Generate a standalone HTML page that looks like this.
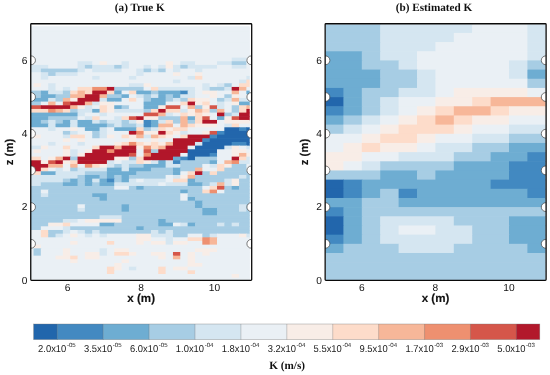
<!DOCTYPE html>
<html lang="en"><head><meta charset="utf-8"><title>True K vs Estimated K</title>
<style>
html,body{margin:0;padding:0;background:#fff;}
body{width:550px;height:375px;overflow:hidden;}
svg{display:block;}
text{text-rendering:geometricPrecision;}
.ttl{font-family:"Liberation Serif","Times New Roman",serif;font-weight:bold;font-size:11.2px;fill:#111;}
.tk{font-family:"Liberation Sans",Arial,sans-serif;font-size:10.2px;fill:#111;}
.ax{font-family:"Liberation Sans",Arial,sans-serif;font-weight:bold;font-size:11.6px;fill:#111;stroke:#111;stroke-width:0.15px;}
.cb{font-family:"Liberation Sans",Arial,sans-serif;font-size:10px;fill:#1a1a1a;}
.sup{font-family:"Liberation Sans",Arial,sans-serif;font-size:6px;fill:#1a1a1a;}
</style></head><body>
<svg width="550" height="375" viewBox="0 0 550 375">
<rect width="550" height="375" fill="#fff"/>
<defs><filter id="bl" x="-2%" y="-2%" width="104%" height="104%"><feGaussianBlur stdDeviation="0.45"/></filter></defs>
<g id="heat-a" filter="url(#bl)"><rect x="31" y="26.5" width="218.7" height="253.8" fill="#eaf0f5"/>
<rect x="31" y="26.5" width="218.7" height="2.34" fill="#eaf0f5"/>
<rect x="31" y="28.24" width="218.7" height="4.27" fill="#eaf0f5"/>
<rect x="31" y="31.91" width="218.7" height="4.27" fill="#eaf0f5"/>
<rect x="31" y="35.58" width="218.7" height="4.27" fill="#eaf0f5"/>
<rect x="31" y="39.25" width="218.7" height="4.27" fill="#eaf0f5"/>
<rect x="31" y="42.91" width="218.7" height="4.27" fill="#eaf0f5"/>
<rect x="31" y="46.58" width="218.7" height="4.27" fill="#eaf0f5"/>
<rect x="31" y="50.25" width="218.7" height="4.27" fill="#eaf0f5"/>
<rect x="31" y="53.92" width="218.7" height="4.27" fill="#eaf0f5"/>
<rect x="31" y="57.59" width="201.28" height="4.27" fill="#eaf0f5"/>
<rect x="231.68" y="57.59" width="15.28" height="4.27" fill="#d5e6f1"/>
<rect x="246.36" y="57.59" width="3.34" height="4.27" fill="#eaf0f5"/>
<rect x="31" y="61.25" width="47.14" height="4.27" fill="#eaf0f5"/>
<rect x="77.54" y="61.25" width="15.28" height="4.27" fill="#d5e6f1"/>
<rect x="92.22" y="61.25" width="7.94" height="4.27" fill="#eaf0f5"/>
<rect x="99.56" y="61.25" width="7.94" height="4.27" fill="#f8ede7"/>
<rect x="106.9" y="61.25" width="15.28" height="4.27" fill="#eaf0f5"/>
<rect x="121.58" y="61.25" width="7.94" height="4.27" fill="#d5e6f1"/>
<rect x="128.92" y="61.25" width="37.3" height="4.27" fill="#eaf0f5"/>
<rect x="165.62" y="61.25" width="7.94" height="4.27" fill="#f8ede7"/>
<rect x="172.96" y="61.25" width="7.94" height="4.27" fill="#eaf0f5"/>
<rect x="180.3" y="61.25" width="15.28" height="4.27" fill="#d5e6f1"/>
<rect x="194.98" y="61.25" width="22.62" height="4.27" fill="#eaf0f5"/>
<rect x="217" y="61.25" width="15.28" height="4.27" fill="#d5e6f1"/>
<rect x="231.68" y="61.25" width="15.28" height="4.27" fill="#a7cde4"/>
<rect x="246.36" y="61.25" width="3.34" height="4.27" fill="#eaf0f5"/>
<rect x="31" y="64.92" width="17.78" height="4.27" fill="#d5e6f1"/>
<rect x="48.18" y="64.92" width="29.96" height="4.27" fill="#eaf0f5"/>
<rect x="77.54" y="64.92" width="7.94" height="4.27" fill="#d5e6f1"/>
<rect x="84.88" y="64.92" width="7.94" height="4.27" fill="#a7cde4"/>
<rect x="92.22" y="64.92" width="22.62" height="4.27" fill="#d5e6f1"/>
<rect x="114.24" y="64.92" width="7.94" height="4.27" fill="#a7cde4"/>
<rect x="121.58" y="64.92" width="7.94" height="4.27" fill="#d5e6f1"/>
<rect x="128.92" y="64.92" width="15.28" height="4.27" fill="#eaf0f5"/>
<rect x="143.6" y="64.92" width="7.94" height="4.27" fill="#d5e6f1"/>
<rect x="150.94" y="64.92" width="7.94" height="4.27" fill="#eaf0f5"/>
<rect x="158.28" y="64.92" width="7.94" height="4.27" fill="#d5e6f1"/>
<rect x="165.62" y="64.92" width="7.94" height="4.27" fill="#f8ede7"/>
<rect x="172.96" y="64.92" width="7.94" height="4.27" fill="#d5e6f1"/>
<rect x="180.3" y="64.92" width="7.94" height="4.27" fill="#a7cde4"/>
<rect x="187.64" y="64.92" width="29.96" height="4.27" fill="#d5e6f1"/>
<rect x="217" y="64.92" width="15.28" height="4.27" fill="#eaf0f5"/>
<rect x="231.68" y="64.92" width="15.28" height="4.27" fill="#d5e6f1"/>
<rect x="246.36" y="64.92" width="3.34" height="4.27" fill="#eaf0f5"/>
<rect x="31" y="68.59" width="10.44" height="4.27" fill="#d5e6f1"/>
<rect x="40.84" y="68.59" width="37.3" height="4.27" fill="#a7cde4"/>
<rect x="77.54" y="68.59" width="7.94" height="4.27" fill="#d5e6f1"/>
<rect x="84.88" y="68.59" width="7.94" height="4.27" fill="#eaf0f5"/>
<rect x="92.22" y="68.59" width="29.96" height="4.27" fill="#d5e6f1"/>
<rect x="121.58" y="68.59" width="15.28" height="4.27" fill="#eaf0f5"/>
<rect x="136.26" y="68.59" width="7.94" height="4.27" fill="#d5e6f1"/>
<rect x="143.6" y="68.59" width="7.94" height="4.27" fill="#a7cde4"/>
<rect x="150.94" y="68.59" width="7.94" height="4.27" fill="#d5e6f1"/>
<rect x="158.28" y="68.59" width="7.94" height="4.27" fill="#a7cde4"/>
<rect x="165.62" y="68.59" width="7.94" height="4.27" fill="#eaf0f5"/>
<rect x="172.96" y="68.59" width="7.94" height="4.27" fill="#d5e6f1"/>
<rect x="180.3" y="68.59" width="15.28" height="4.27" fill="#eaf0f5"/>
<rect x="194.98" y="68.59" width="7.94" height="4.27" fill="#d5e6f1"/>
<rect x="202.32" y="68.59" width="47.38" height="4.27" fill="#eaf0f5"/>
<rect x="31" y="72.26" width="10.44" height="4.27" fill="#eaf0f5"/>
<rect x="40.84" y="72.26" width="7.94" height="4.27" fill="#d5e6f1"/>
<rect x="48.18" y="72.26" width="7.94" height="4.27" fill="#a7cde4"/>
<rect x="55.52" y="72.26" width="22.62" height="4.27" fill="#d5e6f1"/>
<rect x="77.54" y="72.26" width="59.32" height="4.27" fill="#eaf0f5"/>
<rect x="136.26" y="72.26" width="7.94" height="4.27" fill="#d5e6f1"/>
<rect x="143.6" y="72.26" width="29.96" height="4.27" fill="#eaf0f5"/>
<rect x="172.96" y="72.26" width="7.94" height="4.27" fill="#f8ede7"/>
<rect x="180.3" y="72.26" width="15.28" height="4.27" fill="#eaf0f5"/>
<rect x="194.98" y="72.26" width="7.94" height="4.27" fill="#f8ede7"/>
<rect x="202.32" y="72.26" width="47.38" height="4.27" fill="#eaf0f5"/>
<rect x="31" y="75.93" width="10.44" height="4.27" fill="#eaf0f5"/>
<rect x="40.84" y="75.93" width="7.94" height="4.27" fill="#d5e6f1"/>
<rect x="48.18" y="75.93" width="44.64" height="4.27" fill="#eaf0f5"/>
<rect x="92.22" y="75.93" width="7.94" height="4.27" fill="#d5e6f1"/>
<rect x="99.56" y="75.93" width="29.96" height="4.27" fill="#eaf0f5"/>
<rect x="128.92" y="75.93" width="7.94" height="4.27" fill="#d5e6f1"/>
<rect x="136.26" y="75.93" width="51.98" height="4.27" fill="#eaf0f5"/>
<rect x="187.64" y="75.93" width="7.94" height="4.27" fill="#d5e6f1"/>
<rect x="194.98" y="75.93" width="7.94" height="4.27" fill="#fddcca"/>
<rect x="202.32" y="75.93" width="44.64" height="4.27" fill="#eaf0f5"/>
<rect x="246.36" y="75.93" width="3.34" height="4.27" fill="#d5e6f1"/>
<rect x="31" y="79.59" width="142.56" height="4.27" fill="#eaf0f5"/>
<rect x="172.96" y="79.59" width="7.94" height="4.27" fill="#d5e6f1"/>
<rect x="180.3" y="79.59" width="59.32" height="4.27" fill="#eaf0f5"/>
<rect x="239.02" y="79.59" width="7.94" height="4.27" fill="#d5e6f1"/>
<rect x="246.36" y="79.59" width="3.34" height="4.27" fill="#fddcca"/>
<rect x="31" y="83.26" width="3.1" height="4.27" fill="#eaf0f5"/>
<rect x="33.5" y="83.26" width="7.94" height="4.27" fill="#f8ede7"/>
<rect x="40.84" y="83.26" width="7.94" height="4.27" fill="#eaf0f5"/>
<rect x="48.18" y="83.26" width="7.94" height="4.27" fill="#d5e6f1"/>
<rect x="55.52" y="83.26" width="74" height="4.27" fill="#eaf0f5"/>
<rect x="128.92" y="83.26" width="15.28" height="4.27" fill="#d5e6f1"/>
<rect x="143.6" y="83.26" width="7.94" height="4.27" fill="#f8ede7"/>
<rect x="150.94" y="83.26" width="51.98" height="4.27" fill="#eaf0f5"/>
<rect x="202.32" y="83.26" width="7.94" height="4.27" fill="#d5e6f1"/>
<rect x="209.66" y="83.26" width="7.94" height="4.27" fill="#eaf0f5"/>
<rect x="217" y="83.26" width="7.94" height="4.27" fill="#d5e6f1"/>
<rect x="224.34" y="83.26" width="7.94" height="4.27" fill="#a7cde4"/>
<rect x="231.68" y="83.26" width="7.94" height="4.27" fill="#eaf0f5"/>
<rect x="239.02" y="83.26" width="10.68" height="4.27" fill="#fddcca"/>
<rect x="31" y="86.93" width="17.78" height="4.27" fill="#eaf0f5"/>
<rect x="48.18" y="86.93" width="7.94" height="4.27" fill="#d5e6f1"/>
<rect x="55.52" y="86.93" width="7.94" height="4.27" fill="#eaf0f5"/>
<rect x="62.86" y="86.93" width="7.94" height="4.27" fill="#d5e6f1"/>
<rect x="70.2" y="86.93" width="7.94" height="4.27" fill="#eaf0f5"/>
<rect x="77.54" y="86.93" width="15.28" height="4.27" fill="#fddcca"/>
<rect x="92.22" y="86.93" width="15.28" height="4.27" fill="#ee9070"/>
<rect x="106.9" y="86.93" width="7.94" height="4.27" fill="#b2182b"/>
<rect x="114.24" y="86.93" width="29.96" height="4.27" fill="#a7cde4"/>
<rect x="143.6" y="86.93" width="7.94" height="4.27" fill="#eaf0f5"/>
<rect x="150.94" y="86.93" width="7.94" height="4.27" fill="#fddcca"/>
<rect x="158.28" y="86.93" width="37.3" height="4.27" fill="#d5e6f1"/>
<rect x="194.98" y="86.93" width="7.94" height="4.27" fill="#eaf0f5"/>
<rect x="202.32" y="86.93" width="7.94" height="4.27" fill="#d5e6f1"/>
<rect x="209.66" y="86.93" width="15.28" height="4.27" fill="#a7cde4"/>
<rect x="224.34" y="86.93" width="7.94" height="4.27" fill="#d5e6f1"/>
<rect x="231.68" y="86.93" width="7.94" height="4.27" fill="#b2182b"/>
<rect x="239.02" y="86.93" width="7.94" height="4.27" fill="#f7b799"/>
<rect x="246.36" y="86.93" width="3.34" height="4.27" fill="#eaf0f5"/>
<rect x="31" y="90.6" width="10.44" height="4.27" fill="#a7cde4"/>
<rect x="40.84" y="90.6" width="7.94" height="4.27" fill="#6eadd2"/>
<rect x="48.18" y="90.6" width="15.28" height="4.27" fill="#d5e6f1"/>
<rect x="62.86" y="90.6" width="7.94" height="4.27" fill="#a7cde4"/>
<rect x="70.2" y="90.6" width="7.94" height="4.27" fill="#fddcca"/>
<rect x="77.54" y="90.6" width="7.94" height="4.27" fill="#f7b799"/>
<rect x="84.88" y="90.6" width="7.94" height="4.27" fill="#fddcca"/>
<rect x="92.22" y="90.6" width="15.28" height="4.27" fill="#b2182b"/>
<rect x="106.9" y="90.6" width="7.94" height="4.27" fill="#fddcca"/>
<rect x="114.24" y="90.6" width="7.94" height="4.27" fill="#6eadd2"/>
<rect x="121.58" y="90.6" width="7.94" height="4.27" fill="#eaf0f5"/>
<rect x="128.92" y="90.6" width="7.94" height="4.27" fill="#fddcca"/>
<rect x="136.26" y="90.6" width="15.28" height="4.27" fill="#6eadd2"/>
<rect x="150.94" y="90.6" width="7.94" height="4.27" fill="#a7cde4"/>
<rect x="158.28" y="90.6" width="22.62" height="4.27" fill="#6eadd2"/>
<rect x="180.3" y="90.6" width="7.94" height="4.27" fill="#4389c1"/>
<rect x="187.64" y="90.6" width="7.94" height="4.27" fill="#d5e6f1"/>
<rect x="194.98" y="90.6" width="7.94" height="4.27" fill="#eaf0f5"/>
<rect x="202.32" y="90.6" width="15.28" height="4.27" fill="#f8ede7"/>
<rect x="217" y="90.6" width="15.28" height="4.27" fill="#eaf0f5"/>
<rect x="231.68" y="90.6" width="7.94" height="4.27" fill="#f7b799"/>
<rect x="239.02" y="90.6" width="7.94" height="4.27" fill="#eaf0f5"/>
<rect x="246.36" y="90.6" width="3.34" height="4.27" fill="#6eadd2"/>
<rect x="31" y="94.27" width="3.1" height="4.27" fill="#eaf0f5"/>
<rect x="33.5" y="94.27" width="7.94" height="4.27" fill="#a7cde4"/>
<rect x="40.84" y="94.27" width="15.28" height="4.27" fill="#6eadd2"/>
<rect x="55.52" y="94.27" width="15.28" height="4.27" fill="#a7cde4"/>
<rect x="70.2" y="94.27" width="15.28" height="4.27" fill="#f7b799"/>
<rect x="84.88" y="94.27" width="15.28" height="4.27" fill="#b2182b"/>
<rect x="99.56" y="94.27" width="7.94" height="4.27" fill="#f7b799"/>
<rect x="106.9" y="94.27" width="15.28" height="4.27" fill="#a7cde4"/>
<rect x="121.58" y="94.27" width="7.94" height="4.27" fill="#6eadd2"/>
<rect x="128.92" y="94.27" width="7.94" height="4.27" fill="#eaf0f5"/>
<rect x="136.26" y="94.27" width="7.94" height="4.27" fill="#d5e6f1"/>
<rect x="143.6" y="94.27" width="7.94" height="4.27" fill="#a7cde4"/>
<rect x="150.94" y="94.27" width="7.94" height="4.27" fill="#d5e6f1"/>
<rect x="158.28" y="94.27" width="7.94" height="4.27" fill="#6eadd2"/>
<rect x="165.62" y="94.27" width="7.94" height="4.27" fill="#a7cde4"/>
<rect x="172.96" y="94.27" width="7.94" height="4.27" fill="#6eadd2"/>
<rect x="180.3" y="94.27" width="15.28" height="4.27" fill="#d5e6f1"/>
<rect x="194.98" y="94.27" width="15.28" height="4.27" fill="#eaf0f5"/>
<rect x="209.66" y="94.27" width="7.94" height="4.27" fill="#f8ede7"/>
<rect x="217" y="94.27" width="7.94" height="4.27" fill="#eaf0f5"/>
<rect x="224.34" y="94.27" width="7.94" height="4.27" fill="#a7cde4"/>
<rect x="231.68" y="94.27" width="7.94" height="4.27" fill="#f8ede7"/>
<rect x="239.02" y="94.27" width="10.68" height="4.27" fill="#eaf0f5"/>
<rect x="31" y="97.93" width="3.1" height="4.27" fill="#a7cde4"/>
<rect x="33.5" y="97.93" width="15.28" height="4.27" fill="#6eadd2"/>
<rect x="48.18" y="97.93" width="7.94" height="4.27" fill="#d5e6f1"/>
<rect x="55.52" y="97.93" width="7.94" height="4.27" fill="#a7cde4"/>
<rect x="62.86" y="97.93" width="7.94" height="4.27" fill="#f7b799"/>
<rect x="70.2" y="97.93" width="7.94" height="4.27" fill="#f8ede7"/>
<rect x="77.54" y="97.93" width="22.62" height="4.27" fill="#b2182b"/>
<rect x="99.56" y="97.93" width="7.94" height="4.27" fill="#d5e6f1"/>
<rect x="106.9" y="97.93" width="15.28" height="4.27" fill="#6eadd2"/>
<rect x="121.58" y="97.93" width="7.94" height="4.27" fill="#eaf0f5"/>
<rect x="128.92" y="97.93" width="7.94" height="4.27" fill="#fddcca"/>
<rect x="136.26" y="97.93" width="7.94" height="4.27" fill="#eaf0f5"/>
<rect x="143.6" y="97.93" width="7.94" height="4.27" fill="#a7cde4"/>
<rect x="150.94" y="97.93" width="15.28" height="4.27" fill="#6eadd2"/>
<rect x="165.62" y="97.93" width="7.94" height="4.27" fill="#a7cde4"/>
<rect x="172.96" y="97.93" width="7.94" height="4.27" fill="#d5e6f1"/>
<rect x="180.3" y="97.93" width="7.94" height="4.27" fill="#a7cde4"/>
<rect x="187.64" y="97.93" width="7.94" height="4.27" fill="#fddcca"/>
<rect x="194.98" y="97.93" width="15.28" height="4.27" fill="#f8ede7"/>
<rect x="209.66" y="97.93" width="7.94" height="4.27" fill="#eaf0f5"/>
<rect x="217" y="97.93" width="7.94" height="4.27" fill="#a7cde4"/>
<rect x="224.34" y="97.93" width="7.94" height="4.27" fill="#d5e6f1"/>
<rect x="231.68" y="97.93" width="7.94" height="4.27" fill="#f7b799"/>
<rect x="239.02" y="97.93" width="10.68" height="4.27" fill="#d5e6f1"/>
<rect x="31" y="101.6" width="10.44" height="4.27" fill="#a7cde4"/>
<rect x="40.84" y="101.6" width="7.94" height="4.27" fill="#eaf0f5"/>
<rect x="48.18" y="101.6" width="7.94" height="4.27" fill="#f7b799"/>
<rect x="55.52" y="101.6" width="7.94" height="4.27" fill="#eaf0f5"/>
<rect x="62.86" y="101.6" width="7.94" height="4.27" fill="#d5564a"/>
<rect x="70.2" y="101.6" width="15.28" height="4.27" fill="#b2182b"/>
<rect x="84.88" y="101.6" width="7.94" height="4.27" fill="#f7b799"/>
<rect x="92.22" y="101.6" width="7.94" height="4.27" fill="#d5e6f1"/>
<rect x="99.56" y="101.6" width="15.28" height="4.27" fill="#f8ede7"/>
<rect x="114.24" y="101.6" width="29.96" height="4.27" fill="#eaf0f5"/>
<rect x="143.6" y="101.6" width="22.62" height="4.27" fill="#6eadd2"/>
<rect x="165.62" y="101.6" width="15.28" height="4.27" fill="#eaf0f5"/>
<rect x="180.3" y="101.6" width="7.94" height="4.27" fill="#fddcca"/>
<rect x="187.64" y="101.6" width="7.94" height="4.27" fill="#b2182b"/>
<rect x="194.98" y="101.6" width="7.94" height="4.27" fill="#f8ede7"/>
<rect x="202.32" y="101.6" width="7.94" height="4.27" fill="#fddcca"/>
<rect x="209.66" y="101.6" width="7.94" height="4.27" fill="#eaf0f5"/>
<rect x="217" y="101.6" width="7.94" height="4.27" fill="#d5e6f1"/>
<rect x="224.34" y="101.6" width="7.94" height="4.27" fill="#eaf0f5"/>
<rect x="231.68" y="101.6" width="7.94" height="4.27" fill="#f8ede7"/>
<rect x="239.02" y="101.6" width="10.68" height="4.27" fill="#6eadd2"/>
<rect x="31" y="105.27" width="10.44" height="4.27" fill="#d5564a"/>
<rect x="40.84" y="105.27" width="29.96" height="4.27" fill="#b2182b"/>
<rect x="70.2" y="105.27" width="7.94" height="4.27" fill="#f7b799"/>
<rect x="77.54" y="105.27" width="7.94" height="4.27" fill="#f8ede7"/>
<rect x="84.88" y="105.27" width="7.94" height="4.27" fill="#d5e6f1"/>
<rect x="92.22" y="105.27" width="7.94" height="4.27" fill="#eaf0f5"/>
<rect x="99.56" y="105.27" width="7.94" height="4.27" fill="#fddcca"/>
<rect x="106.9" y="105.27" width="7.94" height="4.27" fill="#f8ede7"/>
<rect x="114.24" y="105.27" width="7.94" height="4.27" fill="#6eadd2"/>
<rect x="121.58" y="105.27" width="7.94" height="4.27" fill="#a7cde4"/>
<rect x="128.92" y="105.27" width="15.28" height="4.27" fill="#eaf0f5"/>
<rect x="143.6" y="105.27" width="15.28" height="4.27" fill="#6eadd2"/>
<rect x="158.28" y="105.27" width="7.94" height="4.27" fill="#f8ede7"/>
<rect x="165.62" y="105.27" width="15.28" height="4.27" fill="#d5564a"/>
<rect x="180.3" y="105.27" width="7.94" height="4.27" fill="#eaf0f5"/>
<rect x="187.64" y="105.27" width="7.94" height="4.27" fill="#f7b799"/>
<rect x="194.98" y="105.27" width="7.94" height="4.27" fill="#a7cde4"/>
<rect x="202.32" y="105.27" width="7.94" height="4.27" fill="#f8ede7"/>
<rect x="209.66" y="105.27" width="7.94" height="4.27" fill="#d5564a"/>
<rect x="217" y="105.27" width="7.94" height="4.27" fill="#d5e6f1"/>
<rect x="224.34" y="105.27" width="7.94" height="4.27" fill="#eaf0f5"/>
<rect x="231.68" y="105.27" width="7.94" height="4.27" fill="#a7cde4"/>
<rect x="239.02" y="105.27" width="7.94" height="4.27" fill="#fddcca"/>
<rect x="246.36" y="105.27" width="3.34" height="4.27" fill="#f7b799"/>
<rect x="31" y="108.94" width="17.78" height="4.27" fill="#fddcca"/>
<rect x="48.18" y="108.94" width="7.94" height="4.27" fill="#ee9070"/>
<rect x="55.52" y="108.94" width="7.94" height="4.27" fill="#f7b799"/>
<rect x="62.86" y="108.94" width="7.94" height="4.27" fill="#fddcca"/>
<rect x="70.2" y="108.94" width="7.94" height="4.27" fill="#a7cde4"/>
<rect x="77.54" y="108.94" width="15.28" height="4.27" fill="#d5e6f1"/>
<rect x="92.22" y="108.94" width="7.94" height="4.27" fill="#6eadd2"/>
<rect x="99.56" y="108.94" width="7.94" height="4.27" fill="#fddcca"/>
<rect x="106.9" y="108.94" width="7.94" height="4.27" fill="#f8ede7"/>
<rect x="114.24" y="108.94" width="29.96" height="4.27" fill="#d5e6f1"/>
<rect x="143.6" y="108.94" width="7.94" height="4.27" fill="#a7cde4"/>
<rect x="150.94" y="108.94" width="7.94" height="4.27" fill="#fddcca"/>
<rect x="158.28" y="108.94" width="7.94" height="4.27" fill="#b2182b"/>
<rect x="165.62" y="108.94" width="15.28" height="4.27" fill="#fddcca"/>
<rect x="180.3" y="108.94" width="7.94" height="4.27" fill="#d5e6f1"/>
<rect x="187.64" y="108.94" width="7.94" height="4.27" fill="#f8ede7"/>
<rect x="194.98" y="108.94" width="7.94" height="4.27" fill="#f7b799"/>
<rect x="202.32" y="108.94" width="7.94" height="4.27" fill="#fddcca"/>
<rect x="209.66" y="108.94" width="7.94" height="4.27" fill="#a7cde4"/>
<rect x="217" y="108.94" width="7.94" height="4.27" fill="#f7b799"/>
<rect x="224.34" y="108.94" width="7.94" height="4.27" fill="#eaf0f5"/>
<rect x="231.68" y="108.94" width="7.94" height="4.27" fill="#a7cde4"/>
<rect x="239.02" y="108.94" width="7.94" height="4.27" fill="#fddcca"/>
<rect x="246.36" y="108.94" width="3.34" height="4.27" fill="#b2182b"/>
<rect x="31" y="112.61" width="47.14" height="4.27" fill="#6eadd2"/>
<rect x="77.54" y="112.61" width="7.94" height="4.27" fill="#d5e6f1"/>
<rect x="84.88" y="112.61" width="15.28" height="4.27" fill="#eaf0f5"/>
<rect x="99.56" y="112.61" width="7.94" height="4.27" fill="#d5e6f1"/>
<rect x="106.9" y="112.61" width="37.3" height="4.27" fill="#eaf0f5"/>
<rect x="143.6" y="112.61" width="15.28" height="4.27" fill="#d5564a"/>
<rect x="158.28" y="112.61" width="7.94" height="4.27" fill="#f7b799"/>
<rect x="165.62" y="112.61" width="7.94" height="4.27" fill="#d5e6f1"/>
<rect x="172.96" y="112.61" width="7.94" height="4.27" fill="#eaf0f5"/>
<rect x="180.3" y="112.61" width="7.94" height="4.27" fill="#fddcca"/>
<rect x="187.64" y="112.61" width="7.94" height="4.27" fill="#f8ede7"/>
<rect x="194.98" y="112.61" width="7.94" height="4.27" fill="#fddcca"/>
<rect x="202.32" y="112.61" width="7.94" height="4.27" fill="#f8ede7"/>
<rect x="209.66" y="112.61" width="7.94" height="4.27" fill="#eaf0f5"/>
<rect x="217" y="112.61" width="7.94" height="4.27" fill="#b2182b"/>
<rect x="224.34" y="112.61" width="7.94" height="4.27" fill="#a7cde4"/>
<rect x="231.68" y="112.61" width="7.94" height="4.27" fill="#d5e6f1"/>
<rect x="239.02" y="112.61" width="10.68" height="4.27" fill="#b2182b"/>
<rect x="31" y="116.27" width="17.78" height="4.27" fill="#6eadd2"/>
<rect x="48.18" y="116.27" width="29.96" height="4.27" fill="#a7cde4"/>
<rect x="77.54" y="116.27" width="7.94" height="4.27" fill="#eaf0f5"/>
<rect x="84.88" y="116.27" width="7.94" height="4.27" fill="#d5e6f1"/>
<rect x="92.22" y="116.27" width="7.94" height="4.27" fill="#fddcca"/>
<rect x="99.56" y="116.27" width="15.28" height="4.27" fill="#eaf0f5"/>
<rect x="114.24" y="116.27" width="7.94" height="4.27" fill="#d5e6f1"/>
<rect x="121.58" y="116.27" width="7.94" height="4.27" fill="#fddcca"/>
<rect x="128.92" y="116.27" width="7.94" height="4.27" fill="#d5564a"/>
<rect x="136.26" y="116.27" width="7.94" height="4.27" fill="#b2182b"/>
<rect x="143.6" y="116.27" width="15.28" height="4.27" fill="#f8ede7"/>
<rect x="158.28" y="116.27" width="22.62" height="4.27" fill="#a7cde4"/>
<rect x="180.3" y="116.27" width="7.94" height="4.27" fill="#f7b799"/>
<rect x="187.64" y="116.27" width="7.94" height="4.27" fill="#6eadd2"/>
<rect x="194.98" y="116.27" width="7.94" height="4.27" fill="#fddcca"/>
<rect x="202.32" y="116.27" width="7.94" height="4.27" fill="#d5564a"/>
<rect x="209.66" y="116.27" width="7.94" height="4.27" fill="#eaf0f5"/>
<rect x="217" y="116.27" width="7.94" height="4.27" fill="#6eadd2"/>
<rect x="224.34" y="116.27" width="7.94" height="4.27" fill="#f8ede7"/>
<rect x="231.68" y="116.27" width="7.94" height="4.27" fill="#d5564a"/>
<rect x="239.02" y="116.27" width="10.68" height="4.27" fill="#b2182b"/>
<rect x="31" y="119.94" width="10.44" height="4.27" fill="#6eadd2"/>
<rect x="40.84" y="119.94" width="7.94" height="4.27" fill="#a7cde4"/>
<rect x="48.18" y="119.94" width="7.94" height="4.27" fill="#d5e6f1"/>
<rect x="55.52" y="119.94" width="7.94" height="4.27" fill="#a7cde4"/>
<rect x="62.86" y="119.94" width="7.94" height="4.27" fill="#6eadd2"/>
<rect x="70.2" y="119.94" width="7.94" height="4.27" fill="#d5e6f1"/>
<rect x="77.54" y="119.94" width="15.28" height="4.27" fill="#6eadd2"/>
<rect x="92.22" y="119.94" width="7.94" height="4.27" fill="#d5e6f1"/>
<rect x="99.56" y="119.94" width="7.94" height="4.27" fill="#a7cde4"/>
<rect x="106.9" y="119.94" width="15.28" height="4.27" fill="#d5e6f1"/>
<rect x="121.58" y="119.94" width="7.94" height="4.27" fill="#a7cde4"/>
<rect x="128.92" y="119.94" width="7.94" height="4.27" fill="#d5e6f1"/>
<rect x="136.26" y="119.94" width="7.94" height="4.27" fill="#f8ede7"/>
<rect x="143.6" y="119.94" width="7.94" height="4.27" fill="#4389c1"/>
<rect x="150.94" y="119.94" width="7.94" height="4.27" fill="#6eadd2"/>
<rect x="158.28" y="119.94" width="7.94" height="4.27" fill="#d5e6f1"/>
<rect x="165.62" y="119.94" width="7.94" height="4.27" fill="#fddcca"/>
<rect x="172.96" y="119.94" width="7.94" height="4.27" fill="#a7cde4"/>
<rect x="180.3" y="119.94" width="7.94" height="4.27" fill="#f7b799"/>
<rect x="187.64" y="119.94" width="7.94" height="4.27" fill="#a7cde4"/>
<rect x="194.98" y="119.94" width="7.94" height="4.27" fill="#fddcca"/>
<rect x="202.32" y="119.94" width="15.28" height="4.27" fill="#b2182b"/>
<rect x="217" y="119.94" width="7.94" height="4.27" fill="#eaf0f5"/>
<rect x="224.34" y="119.94" width="25.36" height="4.27" fill="#f8ede7"/>
<rect x="31" y="123.61" width="17.78" height="4.27" fill="#6eadd2"/>
<rect x="48.18" y="123.61" width="7.94" height="4.27" fill="#d5e6f1"/>
<rect x="55.52" y="123.61" width="15.28" height="4.27" fill="#6eadd2"/>
<rect x="70.2" y="123.61" width="7.94" height="4.27" fill="#d5e6f1"/>
<rect x="77.54" y="123.61" width="29.96" height="4.27" fill="#6eadd2"/>
<rect x="106.9" y="123.61" width="7.94" height="4.27" fill="#a7cde4"/>
<rect x="114.24" y="123.61" width="7.94" height="4.27" fill="#d5e6f1"/>
<rect x="121.58" y="123.61" width="15.28" height="4.27" fill="#a7cde4"/>
<rect x="136.26" y="123.61" width="7.94" height="4.27" fill="#d5e6f1"/>
<rect x="143.6" y="123.61" width="7.94" height="4.27" fill="#4389c1"/>
<rect x="150.94" y="123.61" width="7.94" height="4.27" fill="#6eadd2"/>
<rect x="158.28" y="123.61" width="15.28" height="4.27" fill="#f7b799"/>
<rect x="172.96" y="123.61" width="7.94" height="4.27" fill="#eaf0f5"/>
<rect x="180.3" y="123.61" width="7.94" height="4.27" fill="#f7b799"/>
<rect x="187.64" y="123.61" width="7.94" height="4.27" fill="#fddcca"/>
<rect x="194.98" y="123.61" width="22.62" height="4.27" fill="#f8ede7"/>
<rect x="217" y="123.61" width="7.94" height="4.27" fill="#eaf0f5"/>
<rect x="224.34" y="123.61" width="7.94" height="4.27" fill="#d5e6f1"/>
<rect x="231.68" y="123.61" width="7.94" height="4.27" fill="#fddcca"/>
<rect x="239.02" y="123.61" width="10.68" height="4.27" fill="#eaf0f5"/>
<rect x="31" y="127.28" width="17.78" height="4.27" fill="#eaf0f5"/>
<rect x="48.18" y="127.28" width="7.94" height="4.27" fill="#d5e6f1"/>
<rect x="55.52" y="127.28" width="15.28" height="4.27" fill="#eaf0f5"/>
<rect x="70.2" y="127.28" width="7.94" height="4.27" fill="#f8ede7"/>
<rect x="77.54" y="127.28" width="7.94" height="4.27" fill="#eaf0f5"/>
<rect x="84.88" y="127.28" width="15.28" height="4.27" fill="#6eadd2"/>
<rect x="99.56" y="127.28" width="7.94" height="4.27" fill="#d5e6f1"/>
<rect x="106.9" y="127.28" width="7.94" height="4.27" fill="#eaf0f5"/>
<rect x="114.24" y="127.28" width="22.62" height="4.27" fill="#6eadd2"/>
<rect x="136.26" y="127.28" width="7.94" height="4.27" fill="#fddcca"/>
<rect x="143.6" y="127.28" width="7.94" height="4.27" fill="#a7cde4"/>
<rect x="150.94" y="127.28" width="7.94" height="4.27" fill="#d5e6f1"/>
<rect x="158.28" y="127.28" width="7.94" height="4.27" fill="#fddcca"/>
<rect x="165.62" y="127.28" width="7.94" height="4.27" fill="#f8ede7"/>
<rect x="172.96" y="127.28" width="15.28" height="4.27" fill="#fddcca"/>
<rect x="187.64" y="127.28" width="37.3" height="4.27" fill="#eaf0f5"/>
<rect x="224.34" y="127.28" width="15.28" height="4.27" fill="#2166ac"/>
<rect x="239.02" y="127.28" width="7.94" height="4.27" fill="#4389c1"/>
<rect x="246.36" y="127.28" width="3.34" height="4.27" fill="#2166ac"/>
<rect x="31" y="130.95" width="32.46" height="4.27" fill="#eaf0f5"/>
<rect x="62.86" y="130.95" width="7.94" height="4.27" fill="#a7cde4"/>
<rect x="70.2" y="130.95" width="7.94" height="4.27" fill="#d5e6f1"/>
<rect x="77.54" y="130.95" width="15.28" height="4.27" fill="#eaf0f5"/>
<rect x="92.22" y="130.95" width="7.94" height="4.27" fill="#a7cde4"/>
<rect x="99.56" y="130.95" width="7.94" height="4.27" fill="#d5e6f1"/>
<rect x="106.9" y="130.95" width="22.62" height="4.27" fill="#eaf0f5"/>
<rect x="128.92" y="130.95" width="7.94" height="4.27" fill="#b2182b"/>
<rect x="136.26" y="130.95" width="7.94" height="4.27" fill="#ee9070"/>
<rect x="143.6" y="130.95" width="15.28" height="4.27" fill="#f8ede7"/>
<rect x="158.28" y="130.95" width="7.94" height="4.27" fill="#b2182b"/>
<rect x="165.62" y="130.95" width="7.94" height="4.27" fill="#fddcca"/>
<rect x="172.96" y="130.95" width="7.94" height="4.27" fill="#f8ede7"/>
<rect x="180.3" y="130.95" width="7.94" height="4.27" fill="#d5e6f1"/>
<rect x="187.64" y="130.95" width="15.28" height="4.27" fill="#eaf0f5"/>
<rect x="202.32" y="130.95" width="7.94" height="4.27" fill="#f8ede7"/>
<rect x="209.66" y="130.95" width="7.94" height="4.27" fill="#d5564a"/>
<rect x="217" y="130.95" width="7.94" height="4.27" fill="#4389c1"/>
<rect x="224.34" y="130.95" width="25.36" height="4.27" fill="#2166ac"/>
<rect x="31" y="134.61" width="3.1" height="4.27" fill="#eaf0f5"/>
<rect x="33.5" y="134.61" width="7.94" height="4.27" fill="#f8ede7"/>
<rect x="40.84" y="134.61" width="22.62" height="4.27" fill="#eaf0f5"/>
<rect x="62.86" y="134.61" width="7.94" height="4.27" fill="#d5e6f1"/>
<rect x="70.2" y="134.61" width="15.28" height="4.27" fill="#fddcca"/>
<rect x="84.88" y="134.61" width="7.94" height="4.27" fill="#eaf0f5"/>
<rect x="92.22" y="134.61" width="7.94" height="4.27" fill="#a7cde4"/>
<rect x="99.56" y="134.61" width="7.94" height="4.27" fill="#d5e6f1"/>
<rect x="106.9" y="134.61" width="7.94" height="4.27" fill="#f8ede7"/>
<rect x="114.24" y="134.61" width="7.94" height="4.27" fill="#eaf0f5"/>
<rect x="121.58" y="134.61" width="7.94" height="4.27" fill="#fddcca"/>
<rect x="128.92" y="134.61" width="7.94" height="4.27" fill="#f8ede7"/>
<rect x="136.26" y="134.61" width="7.94" height="4.27" fill="#f7b799"/>
<rect x="143.6" y="134.61" width="7.94" height="4.27" fill="#d5e6f1"/>
<rect x="150.94" y="134.61" width="7.94" height="4.27" fill="#f7b799"/>
<rect x="158.28" y="134.61" width="7.94" height="4.27" fill="#fddcca"/>
<rect x="165.62" y="134.61" width="7.94" height="4.27" fill="#f8ede7"/>
<rect x="172.96" y="134.61" width="7.94" height="4.27" fill="#eaf0f5"/>
<rect x="180.3" y="134.61" width="7.94" height="4.27" fill="#fddcca"/>
<rect x="187.64" y="134.61" width="22.62" height="4.27" fill="#b2182b"/>
<rect x="209.66" y="134.61" width="7.94" height="4.27" fill="#4389c1"/>
<rect x="217" y="134.61" width="32.7" height="4.27" fill="#2166ac"/>
<rect x="31" y="138.28" width="32.46" height="4.27" fill="#eaf0f5"/>
<rect x="62.86" y="138.28" width="7.94" height="4.27" fill="#f8ede7"/>
<rect x="70.2" y="138.28" width="7.94" height="4.27" fill="#eaf0f5"/>
<rect x="77.54" y="138.28" width="7.94" height="4.27" fill="#f8ede7"/>
<rect x="84.88" y="138.28" width="44.64" height="4.27" fill="#eaf0f5"/>
<rect x="128.92" y="138.28" width="7.94" height="4.27" fill="#f8ede7"/>
<rect x="136.26" y="138.28" width="15.28" height="4.27" fill="#eaf0f5"/>
<rect x="150.94" y="138.28" width="7.94" height="4.27" fill="#f8ede7"/>
<rect x="158.28" y="138.28" width="15.28" height="4.27" fill="#eaf0f5"/>
<rect x="172.96" y="138.28" width="29.96" height="4.27" fill="#b2182b"/>
<rect x="202.32" y="138.28" width="7.94" height="4.27" fill="#4389c1"/>
<rect x="209.66" y="138.28" width="40.04" height="4.27" fill="#2166ac"/>
<rect x="31" y="141.95" width="17.78" height="4.27" fill="#eaf0f5"/>
<rect x="48.18" y="141.95" width="7.94" height="4.27" fill="#d5e6f1"/>
<rect x="55.52" y="141.95" width="22.62" height="4.27" fill="#eaf0f5"/>
<rect x="77.54" y="141.95" width="7.94" height="4.27" fill="#d5e6f1"/>
<rect x="84.88" y="141.95" width="29.96" height="4.27" fill="#eaf0f5"/>
<rect x="114.24" y="141.95" width="7.94" height="4.27" fill="#f8ede7"/>
<rect x="121.58" y="141.95" width="7.94" height="4.27" fill="#fddcca"/>
<rect x="128.92" y="141.95" width="7.94" height="4.27" fill="#ee9070"/>
<rect x="136.26" y="141.95" width="7.94" height="4.27" fill="#fddcca"/>
<rect x="143.6" y="141.95" width="7.94" height="4.27" fill="#f8ede7"/>
<rect x="150.94" y="141.95" width="7.94" height="4.27" fill="#fddcca"/>
<rect x="158.28" y="141.95" width="7.94" height="4.27" fill="#f8ede7"/>
<rect x="165.62" y="141.95" width="7.94" height="4.27" fill="#f7b799"/>
<rect x="172.96" y="141.95" width="22.62" height="4.27" fill="#b2182b"/>
<rect x="194.98" y="141.95" width="7.94" height="4.27" fill="#d5e6f1"/>
<rect x="202.32" y="141.95" width="29.96" height="4.27" fill="#2166ac"/>
<rect x="231.68" y="141.95" width="15.28" height="4.27" fill="#4389c1"/>
<rect x="246.36" y="141.95" width="3.34" height="4.27" fill="#2166ac"/>
<rect x="31" y="145.62" width="10.44" height="4.27" fill="#d5e6f1"/>
<rect x="40.84" y="145.62" width="7.94" height="4.27" fill="#f8ede7"/>
<rect x="48.18" y="145.62" width="15.28" height="4.27" fill="#eaf0f5"/>
<rect x="62.86" y="145.62" width="7.94" height="4.27" fill="#fddcca"/>
<rect x="70.2" y="145.62" width="22.62" height="4.27" fill="#eaf0f5"/>
<rect x="92.22" y="145.62" width="7.94" height="4.27" fill="#fddcca"/>
<rect x="99.56" y="145.62" width="15.28" height="4.27" fill="#b2182b"/>
<rect x="114.24" y="145.62" width="7.94" height="4.27" fill="#f7b799"/>
<rect x="121.58" y="145.62" width="15.28" height="4.27" fill="#b2182b"/>
<rect x="136.26" y="145.62" width="7.94" height="4.27" fill="#f8ede7"/>
<rect x="143.6" y="145.62" width="7.94" height="4.27" fill="#ee9070"/>
<rect x="150.94" y="145.62" width="7.94" height="4.27" fill="#fddcca"/>
<rect x="158.28" y="145.62" width="7.94" height="4.27" fill="#f7b799"/>
<rect x="165.62" y="145.62" width="22.62" height="4.27" fill="#b2182b"/>
<rect x="187.64" y="145.62" width="7.94" height="4.27" fill="#eaf0f5"/>
<rect x="194.98" y="145.62" width="29.96" height="4.27" fill="#2166ac"/>
<rect x="224.34" y="145.62" width="7.94" height="4.27" fill="#d5e6f1"/>
<rect x="231.68" y="145.62" width="7.94" height="4.27" fill="#f8ede7"/>
<rect x="239.02" y="145.62" width="7.94" height="4.27" fill="#eaf0f5"/>
<rect x="246.36" y="145.62" width="3.34" height="4.27" fill="#d5e6f1"/>
<rect x="31" y="149.29" width="3.1" height="4.27" fill="#eaf0f5"/>
<rect x="33.5" y="149.29" width="7.94" height="4.27" fill="#f8ede7"/>
<rect x="40.84" y="149.29" width="22.62" height="4.27" fill="#eaf0f5"/>
<rect x="62.86" y="149.29" width="7.94" height="4.27" fill="#f8ede7"/>
<rect x="70.2" y="149.29" width="7.94" height="4.27" fill="#d5e6f1"/>
<rect x="77.54" y="149.29" width="7.94" height="4.27" fill="#eaf0f5"/>
<rect x="84.88" y="149.29" width="7.94" height="4.27" fill="#f8ede7"/>
<rect x="92.22" y="149.29" width="15.28" height="4.27" fill="#b2182b"/>
<rect x="106.9" y="149.29" width="7.94" height="4.27" fill="#ee9070"/>
<rect x="114.24" y="149.29" width="22.62" height="4.27" fill="#b2182b"/>
<rect x="136.26" y="149.29" width="7.94" height="4.27" fill="#eaf0f5"/>
<rect x="143.6" y="149.29" width="7.94" height="4.27" fill="#d5564a"/>
<rect x="150.94" y="149.29" width="7.94" height="4.27" fill="#a7cde4"/>
<rect x="158.28" y="149.29" width="29.96" height="4.27" fill="#b2182b"/>
<rect x="187.64" y="149.29" width="29.96" height="4.27" fill="#2166ac"/>
<rect x="217" y="149.29" width="15.28" height="4.27" fill="#eaf0f5"/>
<rect x="231.68" y="149.29" width="15.28" height="4.27" fill="#f8ede7"/>
<rect x="246.36" y="149.29" width="3.34" height="4.27" fill="#eaf0f5"/>
<rect x="31" y="152.95" width="32.46" height="4.27" fill="#eaf0f5"/>
<rect x="62.86" y="152.95" width="7.94" height="4.27" fill="#f8ede7"/>
<rect x="70.2" y="152.95" width="7.94" height="4.27" fill="#d5e6f1"/>
<rect x="77.54" y="152.95" width="7.94" height="4.27" fill="#f8ede7"/>
<rect x="84.88" y="152.95" width="44.64" height="4.27" fill="#b2182b"/>
<rect x="128.92" y="152.95" width="7.94" height="4.27" fill="#d5564a"/>
<rect x="136.26" y="152.95" width="7.94" height="4.27" fill="#eaf0f5"/>
<rect x="143.6" y="152.95" width="7.94" height="4.27" fill="#ee9070"/>
<rect x="150.94" y="152.95" width="29.96" height="4.27" fill="#b2182b"/>
<rect x="180.3" y="152.95" width="7.94" height="4.27" fill="#eaf0f5"/>
<rect x="187.64" y="152.95" width="22.62" height="4.27" fill="#2166ac"/>
<rect x="209.66" y="152.95" width="7.94" height="4.27" fill="#4389c1"/>
<rect x="217" y="152.95" width="15.28" height="4.27" fill="#eaf0f5"/>
<rect x="231.68" y="152.95" width="7.94" height="4.27" fill="#f8ede7"/>
<rect x="239.02" y="152.95" width="7.94" height="4.27" fill="#f7b799"/>
<rect x="246.36" y="152.95" width="3.34" height="4.27" fill="#f8ede7"/>
<rect x="31" y="156.62" width="10.44" height="4.27" fill="#fddcca"/>
<rect x="40.84" y="156.62" width="7.94" height="4.27" fill="#eaf0f5"/>
<rect x="48.18" y="156.62" width="7.94" height="4.27" fill="#f8ede7"/>
<rect x="55.52" y="156.62" width="7.94" height="4.27" fill="#f7b799"/>
<rect x="62.86" y="156.62" width="7.94" height="4.27" fill="#b2182b"/>
<rect x="70.2" y="156.62" width="7.94" height="4.27" fill="#a7cde4"/>
<rect x="77.54" y="156.62" width="37.3" height="4.27" fill="#b2182b"/>
<rect x="114.24" y="156.62" width="15.28" height="4.27" fill="#f8ede7"/>
<rect x="128.92" y="156.62" width="7.94" height="4.27" fill="#a7cde4"/>
<rect x="136.26" y="156.62" width="7.94" height="4.27" fill="#fddcca"/>
<rect x="143.6" y="156.62" width="29.96" height="4.27" fill="#b2182b"/>
<rect x="172.96" y="156.62" width="7.94" height="4.27" fill="#6eadd2"/>
<rect x="180.3" y="156.62" width="7.94" height="4.27" fill="#4389c1"/>
<rect x="187.64" y="156.62" width="7.94" height="4.27" fill="#2166ac"/>
<rect x="194.98" y="156.62" width="22.62" height="4.27" fill="#a7cde4"/>
<rect x="217" y="156.62" width="15.28" height="4.27" fill="#eaf0f5"/>
<rect x="231.68" y="156.62" width="7.94" height="4.27" fill="#b2182b"/>
<rect x="239.02" y="156.62" width="7.94" height="4.27" fill="#fddcca"/>
<rect x="246.36" y="156.62" width="3.34" height="4.27" fill="#d5e6f1"/>
<rect x="31" y="160.29" width="10.44" height="4.27" fill="#b2182b"/>
<rect x="40.84" y="160.29" width="7.94" height="4.27" fill="#f8ede7"/>
<rect x="48.18" y="160.29" width="7.94" height="4.27" fill="#d5564a"/>
<rect x="55.52" y="160.29" width="7.94" height="4.27" fill="#b2182b"/>
<rect x="62.86" y="160.29" width="7.94" height="4.27" fill="#f8ede7"/>
<rect x="70.2" y="160.29" width="7.94" height="4.27" fill="#fddcca"/>
<rect x="77.54" y="160.29" width="29.96" height="4.27" fill="#b2182b"/>
<rect x="106.9" y="160.29" width="7.94" height="4.27" fill="#d5e6f1"/>
<rect x="114.24" y="160.29" width="7.94" height="4.27" fill="#eaf0f5"/>
<rect x="121.58" y="160.29" width="15.28" height="4.27" fill="#d5e6f1"/>
<rect x="136.26" y="160.29" width="7.94" height="4.27" fill="#fddcca"/>
<rect x="143.6" y="160.29" width="7.94" height="4.27" fill="#f8ede7"/>
<rect x="150.94" y="160.29" width="7.94" height="4.27" fill="#d5e6f1"/>
<rect x="158.28" y="160.29" width="7.94" height="4.27" fill="#6eadd2"/>
<rect x="165.62" y="160.29" width="7.94" height="4.27" fill="#d5e6f1"/>
<rect x="172.96" y="160.29" width="7.94" height="4.27" fill="#4389c1"/>
<rect x="180.3" y="160.29" width="29.96" height="4.27" fill="#a7cde4"/>
<rect x="209.66" y="160.29" width="7.94" height="4.27" fill="#6eadd2"/>
<rect x="217" y="160.29" width="7.94" height="4.27" fill="#eaf0f5"/>
<rect x="224.34" y="160.29" width="7.94" height="4.27" fill="#f7b799"/>
<rect x="231.68" y="160.29" width="7.94" height="4.27" fill="#ee9070"/>
<rect x="239.02" y="160.29" width="10.68" height="4.27" fill="#d5e6f1"/>
<rect x="31" y="163.96" width="17.78" height="4.27" fill="#b2182b"/>
<rect x="48.18" y="163.96" width="15.28" height="4.27" fill="#f7b799"/>
<rect x="62.86" y="163.96" width="7.94" height="4.27" fill="#eaf0f5"/>
<rect x="70.2" y="163.96" width="7.94" height="4.27" fill="#f7b799"/>
<rect x="77.54" y="163.96" width="7.94" height="4.27" fill="#eaf0f5"/>
<rect x="84.88" y="163.96" width="7.94" height="4.27" fill="#ee9070"/>
<rect x="92.22" y="163.96" width="7.94" height="4.27" fill="#fddcca"/>
<rect x="99.56" y="163.96" width="7.94" height="4.27" fill="#f8ede7"/>
<rect x="106.9" y="163.96" width="7.94" height="4.27" fill="#d5e6f1"/>
<rect x="114.24" y="163.96" width="7.94" height="4.27" fill="#a7cde4"/>
<rect x="121.58" y="163.96" width="7.94" height="4.27" fill="#d5e6f1"/>
<rect x="128.92" y="163.96" width="15.28" height="4.27" fill="#a7cde4"/>
<rect x="143.6" y="163.96" width="22.62" height="4.27" fill="#6eadd2"/>
<rect x="165.62" y="163.96" width="15.28" height="4.27" fill="#d5e6f1"/>
<rect x="180.3" y="163.96" width="22.62" height="4.27" fill="#a7cde4"/>
<rect x="202.32" y="163.96" width="7.94" height="4.27" fill="#eaf0f5"/>
<rect x="209.66" y="163.96" width="7.94" height="4.27" fill="#d5e6f1"/>
<rect x="217" y="163.96" width="7.94" height="4.27" fill="#fddcca"/>
<rect x="224.34" y="163.96" width="7.94" height="4.27" fill="#f8ede7"/>
<rect x="231.68" y="163.96" width="15.28" height="4.27" fill="#a7cde4"/>
<rect x="246.36" y="163.96" width="3.34" height="4.27" fill="#eaf0f5"/>
<rect x="31" y="167.63" width="3.1" height="4.27" fill="#eaf0f5"/>
<rect x="33.5" y="167.63" width="7.94" height="4.27" fill="#b2182b"/>
<rect x="40.84" y="167.63" width="7.94" height="4.27" fill="#fddcca"/>
<rect x="48.18" y="167.63" width="7.94" height="4.27" fill="#eaf0f5"/>
<rect x="55.52" y="167.63" width="7.94" height="4.27" fill="#d5e6f1"/>
<rect x="62.86" y="167.63" width="7.94" height="4.27" fill="#eaf0f5"/>
<rect x="70.2" y="167.63" width="7.94" height="4.27" fill="#a7cde4"/>
<rect x="77.54" y="167.63" width="29.96" height="4.27" fill="#d5e6f1"/>
<rect x="106.9" y="167.63" width="15.28" height="4.27" fill="#6eadd2"/>
<rect x="121.58" y="167.63" width="7.94" height="4.27" fill="#d5e6f1"/>
<rect x="128.92" y="167.63" width="22.62" height="4.27" fill="#6eadd2"/>
<rect x="150.94" y="167.63" width="22.62" height="4.27" fill="#a7cde4"/>
<rect x="172.96" y="167.63" width="7.94" height="4.27" fill="#6eadd2"/>
<rect x="180.3" y="167.63" width="15.28" height="4.27" fill="#a7cde4"/>
<rect x="194.98" y="167.63" width="7.94" height="4.27" fill="#f7b799"/>
<rect x="202.32" y="167.63" width="15.28" height="4.27" fill="#eaf0f5"/>
<rect x="217" y="167.63" width="7.94" height="4.27" fill="#fddcca"/>
<rect x="224.34" y="167.63" width="22.62" height="4.27" fill="#a7cde4"/>
<rect x="246.36" y="167.63" width="3.34" height="4.27" fill="#eaf0f5"/>
<rect x="31" y="171.29" width="3.1" height="4.27" fill="#eaf0f5"/>
<rect x="33.5" y="171.29" width="7.94" height="4.27" fill="#fddcca"/>
<rect x="40.84" y="171.29" width="15.28" height="4.27" fill="#6eadd2"/>
<rect x="55.52" y="171.29" width="29.96" height="4.27" fill="#d5e6f1"/>
<rect x="84.88" y="171.29" width="22.62" height="4.27" fill="#a7cde4"/>
<rect x="106.9" y="171.29" width="29.96" height="4.27" fill="#6eadd2"/>
<rect x="136.26" y="171.29" width="37.3" height="4.27" fill="#a7cde4"/>
<rect x="172.96" y="171.29" width="7.94" height="4.27" fill="#6eadd2"/>
<rect x="180.3" y="171.29" width="7.94" height="4.27" fill="#eaf0f5"/>
<rect x="187.64" y="171.29" width="7.94" height="4.27" fill="#fddcca"/>
<rect x="194.98" y="171.29" width="7.94" height="4.27" fill="#b2182b"/>
<rect x="202.32" y="171.29" width="7.94" height="4.27" fill="#a7cde4"/>
<rect x="209.66" y="171.29" width="7.94" height="4.27" fill="#fddcca"/>
<rect x="217" y="171.29" width="32.7" height="4.27" fill="#a7cde4"/>
<rect x="31" y="174.96" width="47.14" height="4.27" fill="#d5e6f1"/>
<rect x="77.54" y="174.96" width="7.94" height="4.27" fill="#a7cde4"/>
<rect x="84.88" y="174.96" width="15.28" height="4.27" fill="#6eadd2"/>
<rect x="99.56" y="174.96" width="7.94" height="4.27" fill="#a7cde4"/>
<rect x="106.9" y="174.96" width="7.94" height="4.27" fill="#6eadd2"/>
<rect x="114.24" y="174.96" width="7.94" height="4.27" fill="#a7cde4"/>
<rect x="121.58" y="174.96" width="7.94" height="4.27" fill="#6eadd2"/>
<rect x="128.92" y="174.96" width="37.3" height="4.27" fill="#a7cde4"/>
<rect x="165.62" y="174.96" width="7.94" height="4.27" fill="#eaf0f5"/>
<rect x="172.96" y="174.96" width="7.94" height="4.27" fill="#d5e6f1"/>
<rect x="180.3" y="174.96" width="7.94" height="4.27" fill="#f8ede7"/>
<rect x="187.64" y="174.96" width="7.94" height="4.27" fill="#f7b799"/>
<rect x="194.98" y="174.96" width="44.64" height="4.27" fill="#a7cde4"/>
<rect x="239.02" y="174.96" width="7.94" height="4.27" fill="#d5e6f1"/>
<rect x="246.36" y="174.96" width="3.34" height="4.27" fill="#a7cde4"/>
<rect x="31" y="178.63" width="32.46" height="4.27" fill="#d5e6f1"/>
<rect x="62.86" y="178.63" width="7.94" height="4.27" fill="#a7cde4"/>
<rect x="70.2" y="178.63" width="7.94" height="4.27" fill="#6eadd2"/>
<rect x="77.54" y="178.63" width="7.94" height="4.27" fill="#a7cde4"/>
<rect x="84.88" y="178.63" width="7.94" height="4.27" fill="#6eadd2"/>
<rect x="92.22" y="178.63" width="7.94" height="4.27" fill="#d5e6f1"/>
<rect x="99.56" y="178.63" width="7.94" height="4.27" fill="#6eadd2"/>
<rect x="106.9" y="178.63" width="7.94" height="4.27" fill="#4389c1"/>
<rect x="114.24" y="178.63" width="7.94" height="4.27" fill="#a7cde4"/>
<rect x="121.58" y="178.63" width="7.94" height="4.27" fill="#6eadd2"/>
<rect x="128.92" y="178.63" width="7.94" height="4.27" fill="#d5e6f1"/>
<rect x="136.26" y="178.63" width="7.94" height="4.27" fill="#eaf0f5"/>
<rect x="143.6" y="178.63" width="22.62" height="4.27" fill="#d5e6f1"/>
<rect x="165.62" y="178.63" width="7.94" height="4.27" fill="#eaf0f5"/>
<rect x="172.96" y="178.63" width="15.28" height="4.27" fill="#fddcca"/>
<rect x="187.64" y="178.63" width="7.94" height="4.27" fill="#6eadd2"/>
<rect x="194.98" y="178.63" width="29.96" height="4.27" fill="#a7cde4"/>
<rect x="224.34" y="178.63" width="7.94" height="4.27" fill="#d5e6f1"/>
<rect x="231.68" y="178.63" width="7.94" height="4.27" fill="#f8ede7"/>
<rect x="239.02" y="178.63" width="10.68" height="4.27" fill="#a7cde4"/>
<rect x="31" y="182.3" width="10.44" height="4.27" fill="#d5e6f1"/>
<rect x="40.84" y="182.3" width="22.62" height="4.27" fill="#a7cde4"/>
<rect x="62.86" y="182.3" width="15.28" height="4.27" fill="#6eadd2"/>
<rect x="77.54" y="182.3" width="7.94" height="4.27" fill="#a7cde4"/>
<rect x="84.88" y="182.3" width="7.94" height="4.27" fill="#6eadd2"/>
<rect x="92.22" y="182.3" width="7.94" height="4.27" fill="#a7cde4"/>
<rect x="99.56" y="182.3" width="15.28" height="4.27" fill="#6eadd2"/>
<rect x="114.24" y="182.3" width="44.64" height="4.27" fill="#d5e6f1"/>
<rect x="158.28" y="182.3" width="7.94" height="4.27" fill="#eaf0f5"/>
<rect x="165.62" y="182.3" width="22.62" height="4.27" fill="#d5e6f1"/>
<rect x="187.64" y="182.3" width="15.28" height="4.27" fill="#6eadd2"/>
<rect x="202.32" y="182.3" width="7.94" height="4.27" fill="#a7cde4"/>
<rect x="209.66" y="182.3" width="7.94" height="4.27" fill="#d5e6f1"/>
<rect x="217" y="182.3" width="7.94" height="4.27" fill="#f7b799"/>
<rect x="224.34" y="182.3" width="7.94" height="4.27" fill="#d5e6f1"/>
<rect x="231.68" y="182.3" width="7.94" height="4.27" fill="#f8ede7"/>
<rect x="239.02" y="182.3" width="10.68" height="4.27" fill="#a7cde4"/>
<rect x="31" y="185.97" width="83.84" height="4.27" fill="#a7cde4"/>
<rect x="114.24" y="185.97" width="15.28" height="4.27" fill="#eaf0f5"/>
<rect x="128.92" y="185.97" width="7.94" height="4.27" fill="#a7cde4"/>
<rect x="136.26" y="185.97" width="7.94" height="4.27" fill="#6eadd2"/>
<rect x="143.6" y="185.97" width="59.32" height="4.27" fill="#a7cde4"/>
<rect x="202.32" y="185.97" width="7.94" height="4.27" fill="#eaf0f5"/>
<rect x="209.66" y="185.97" width="7.94" height="4.27" fill="#fddcca"/>
<rect x="217" y="185.97" width="7.94" height="4.27" fill="#d5564a"/>
<rect x="224.34" y="185.97" width="7.94" height="4.27" fill="#a7cde4"/>
<rect x="231.68" y="185.97" width="7.94" height="4.27" fill="#6eadd2"/>
<rect x="239.02" y="185.97" width="10.68" height="4.27" fill="#a7cde4"/>
<rect x="31" y="189.63" width="10.44" height="4.27" fill="#a7cde4"/>
<rect x="40.84" y="189.63" width="7.94" height="4.27" fill="#eaf0f5"/>
<rect x="48.18" y="189.63" width="132.72" height="4.27" fill="#a7cde4"/>
<rect x="180.3" y="189.63" width="7.94" height="4.27" fill="#6eadd2"/>
<rect x="187.64" y="189.63" width="15.28" height="4.27" fill="#a7cde4"/>
<rect x="202.32" y="189.63" width="7.94" height="4.27" fill="#fddcca"/>
<rect x="209.66" y="189.63" width="7.94" height="4.27" fill="#ee9070"/>
<rect x="217" y="189.63" width="7.94" height="4.27" fill="#eaf0f5"/>
<rect x="224.34" y="189.63" width="25.36" height="4.27" fill="#a7cde4"/>
<rect x="31" y="193.3" width="10.44" height="4.27" fill="#a7cde4"/>
<rect x="40.84" y="193.3" width="7.94" height="4.27" fill="#d5e6f1"/>
<rect x="48.18" y="193.3" width="44.64" height="4.27" fill="#a7cde4"/>
<rect x="92.22" y="193.3" width="15.28" height="4.27" fill="#6eadd2"/>
<rect x="106.9" y="193.3" width="74" height="4.27" fill="#a7cde4"/>
<rect x="180.3" y="193.3" width="7.94" height="4.27" fill="#eaf0f5"/>
<rect x="187.64" y="193.3" width="62.06" height="4.27" fill="#a7cde4"/>
<rect x="31" y="196.97" width="69.16" height="4.27" fill="#a7cde4"/>
<rect x="99.56" y="196.97" width="7.94" height="4.27" fill="#6eadd2"/>
<rect x="106.9" y="196.97" width="74" height="4.27" fill="#a7cde4"/>
<rect x="180.3" y="196.97" width="7.94" height="4.27" fill="#eaf0f5"/>
<rect x="187.64" y="196.97" width="7.94" height="4.27" fill="#6eadd2"/>
<rect x="194.98" y="196.97" width="54.72" height="4.27" fill="#a7cde4"/>
<rect x="31" y="200.64" width="164.58" height="4.27" fill="#a7cde4"/>
<rect x="194.98" y="200.64" width="7.94" height="4.27" fill="#6eadd2"/>
<rect x="202.32" y="200.64" width="47.38" height="4.27" fill="#a7cde4"/>
<rect x="31" y="204.31" width="47.14" height="4.27" fill="#a7cde4"/>
<rect x="77.54" y="204.31" width="7.94" height="4.27" fill="#eaf0f5"/>
<rect x="84.88" y="204.31" width="37.3" height="4.27" fill="#a7cde4"/>
<rect x="121.58" y="204.31" width="7.94" height="4.27" fill="#6eadd2"/>
<rect x="128.92" y="204.31" width="66.66" height="4.27" fill="#a7cde4"/>
<rect x="194.98" y="204.31" width="7.94" height="4.27" fill="#6eadd2"/>
<rect x="202.32" y="204.31" width="37.3" height="4.27" fill="#a7cde4"/>
<rect x="239.02" y="204.31" width="7.94" height="4.27" fill="#d5e6f1"/>
<rect x="246.36" y="204.31" width="3.34" height="4.27" fill="#a7cde4"/>
<rect x="31" y="207.97" width="47.14" height="4.27" fill="#a7cde4"/>
<rect x="77.54" y="207.97" width="7.94" height="4.27" fill="#d5e6f1"/>
<rect x="84.88" y="207.97" width="37.3" height="4.27" fill="#a7cde4"/>
<rect x="121.58" y="207.97" width="7.94" height="4.27" fill="#6eadd2"/>
<rect x="128.92" y="207.97" width="74" height="4.27" fill="#a7cde4"/>
<rect x="202.32" y="207.97" width="15.28" height="4.27" fill="#6eadd2"/>
<rect x="217" y="207.97" width="22.62" height="4.27" fill="#a7cde4"/>
<rect x="239.02" y="207.97" width="7.94" height="4.27" fill="#d5e6f1"/>
<rect x="246.36" y="207.97" width="3.34" height="4.27" fill="#a7cde4"/>
<rect x="31" y="211.64" width="171.92" height="4.27" fill="#a7cde4"/>
<rect x="202.32" y="211.64" width="15.28" height="4.27" fill="#6eadd2"/>
<rect x="217" y="211.64" width="32.7" height="4.27" fill="#a7cde4"/>
<rect x="31" y="215.31" width="69.16" height="4.27" fill="#a7cde4"/>
<rect x="99.56" y="215.31" width="22.62" height="4.27" fill="#d5e6f1"/>
<rect x="121.58" y="215.31" width="128.12" height="4.27" fill="#a7cde4"/>
<rect x="31" y="218.98" width="32.46" height="4.27" fill="#a7cde4"/>
<rect x="62.86" y="218.98" width="15.28" height="4.27" fill="#d5e6f1"/>
<rect x="77.54" y="218.98" width="7.94" height="4.27" fill="#eaf0f5"/>
<rect x="84.88" y="218.98" width="37.3" height="4.27" fill="#f8ede7"/>
<rect x="121.58" y="218.98" width="37.3" height="4.27" fill="#a7cde4"/>
<rect x="158.28" y="218.98" width="7.94" height="4.27" fill="#6eadd2"/>
<rect x="165.62" y="218.98" width="84.08" height="4.27" fill="#a7cde4"/>
<rect x="31" y="222.65" width="17.78" height="4.27" fill="#a7cde4"/>
<rect x="48.18" y="222.65" width="15.28" height="4.27" fill="#f8ede7"/>
<rect x="62.86" y="222.65" width="7.94" height="4.27" fill="#fddcca"/>
<rect x="70.2" y="222.65" width="29.96" height="4.27" fill="#eaf0f5"/>
<rect x="99.56" y="222.65" width="15.28" height="4.27" fill="#6eadd2"/>
<rect x="114.24" y="222.65" width="44.64" height="4.27" fill="#a7cde4"/>
<rect x="158.28" y="222.65" width="15.28" height="4.27" fill="#6eadd2"/>
<rect x="172.96" y="222.65" width="7.94" height="4.27" fill="#eaf0f5"/>
<rect x="180.3" y="222.65" width="7.94" height="4.27" fill="#d5e6f1"/>
<rect x="187.64" y="222.65" width="7.94" height="4.27" fill="#6eadd2"/>
<rect x="194.98" y="222.65" width="22.62" height="4.27" fill="#a7cde4"/>
<rect x="217" y="222.65" width="7.94" height="4.27" fill="#d5e6f1"/>
<rect x="224.34" y="222.65" width="7.94" height="4.27" fill="#a7cde4"/>
<rect x="231.68" y="222.65" width="7.94" height="4.27" fill="#d5e6f1"/>
<rect x="239.02" y="222.65" width="10.68" height="4.27" fill="#a7cde4"/>
<rect x="31" y="226.31" width="10.44" height="4.27" fill="#a7cde4"/>
<rect x="40.84" y="226.31" width="22.62" height="4.27" fill="#eaf0f5"/>
<rect x="62.86" y="226.31" width="7.94" height="4.27" fill="#d5e6f1"/>
<rect x="70.2" y="226.31" width="66.66" height="4.27" fill="#a7cde4"/>
<rect x="136.26" y="226.31" width="7.94" height="4.27" fill="#6eadd2"/>
<rect x="143.6" y="226.31" width="106.1" height="4.27" fill="#a7cde4"/>
<rect x="31" y="229.98" width="10.44" height="4.27" fill="#eaf0f5"/>
<rect x="40.84" y="229.98" width="7.94" height="4.27" fill="#fddcca"/>
<rect x="48.18" y="229.98" width="15.28" height="4.27" fill="#a7cde4"/>
<rect x="62.86" y="229.98" width="7.94" height="4.27" fill="#d5e6f1"/>
<rect x="70.2" y="229.98" width="7.94" height="4.27" fill="#eaf0f5"/>
<rect x="77.54" y="229.98" width="7.94" height="4.27" fill="#d5e6f1"/>
<rect x="84.88" y="229.98" width="7.94" height="4.27" fill="#a7cde4"/>
<rect x="92.22" y="229.98" width="7.94" height="4.27" fill="#d5e6f1"/>
<rect x="99.56" y="229.98" width="51.98" height="4.27" fill="#a7cde4"/>
<rect x="150.94" y="229.98" width="7.94" height="4.27" fill="#d5e6f1"/>
<rect x="158.28" y="229.98" width="7.94" height="4.27" fill="#a7cde4"/>
<rect x="165.62" y="229.98" width="7.94" height="4.27" fill="#d5e6f1"/>
<rect x="172.96" y="229.98" width="76.74" height="4.27" fill="#a7cde4"/>
<rect x="31" y="233.65" width="10.44" height="4.27" fill="#eaf0f5"/>
<rect x="40.84" y="233.65" width="7.94" height="4.27" fill="#fddcca"/>
<rect x="48.18" y="233.65" width="7.94" height="4.27" fill="#a7cde4"/>
<rect x="55.52" y="233.65" width="7.94" height="4.27" fill="#d5e6f1"/>
<rect x="62.86" y="233.65" width="7.94" height="4.27" fill="#eaf0f5"/>
<rect x="70.2" y="233.65" width="7.94" height="4.27" fill="#f8ede7"/>
<rect x="77.54" y="233.65" width="7.94" height="4.27" fill="#eaf0f5"/>
<rect x="84.88" y="233.65" width="7.94" height="4.27" fill="#d5e6f1"/>
<rect x="92.22" y="233.65" width="7.94" height="4.27" fill="#eaf0f5"/>
<rect x="99.56" y="233.65" width="7.94" height="4.27" fill="#d5e6f1"/>
<rect x="106.9" y="233.65" width="29.96" height="4.27" fill="#eaf0f5"/>
<rect x="136.26" y="233.65" width="15.28" height="4.27" fill="#f8ede7"/>
<rect x="150.94" y="233.65" width="22.62" height="4.27" fill="#d5e6f1"/>
<rect x="172.96" y="233.65" width="15.28" height="4.27" fill="#a7cde4"/>
<rect x="187.64" y="233.65" width="15.28" height="4.27" fill="#eaf0f5"/>
<rect x="202.32" y="233.65" width="7.94" height="4.27" fill="#a7cde4"/>
<rect x="209.66" y="233.65" width="7.94" height="4.27" fill="#d5e6f1"/>
<rect x="217" y="233.65" width="22.62" height="4.27" fill="#eaf0f5"/>
<rect x="239.02" y="233.65" width="7.94" height="4.27" fill="#f8ede7"/>
<rect x="246.36" y="233.65" width="3.34" height="4.27" fill="#d5e6f1"/>
<rect x="31" y="237.32" width="105.86" height="4.27" fill="#eaf0f5"/>
<rect x="136.26" y="237.32" width="15.28" height="4.27" fill="#f8ede7"/>
<rect x="150.94" y="237.32" width="15.28" height="4.27" fill="#eaf0f5"/>
<rect x="165.62" y="237.32" width="7.94" height="4.27" fill="#d5e6f1"/>
<rect x="172.96" y="237.32" width="15.28" height="4.27" fill="#eaf0f5"/>
<rect x="187.64" y="237.32" width="15.28" height="4.27" fill="#fddcca"/>
<rect x="202.32" y="237.32" width="7.94" height="4.27" fill="#ee9070"/>
<rect x="209.66" y="237.32" width="7.94" height="4.27" fill="#f7b799"/>
<rect x="217" y="237.32" width="32.7" height="4.27" fill="#eaf0f5"/>
<rect x="31" y="240.99" width="39.8" height="4.27" fill="#eaf0f5"/>
<rect x="70.2" y="240.99" width="7.94" height="4.27" fill="#f8ede7"/>
<rect x="77.54" y="240.99" width="29.96" height="4.27" fill="#eaf0f5"/>
<rect x="106.9" y="240.99" width="7.94" height="4.27" fill="#fddcca"/>
<rect x="114.24" y="240.99" width="22.62" height="4.27" fill="#eaf0f5"/>
<rect x="136.26" y="240.99" width="7.94" height="4.27" fill="#f8ede7"/>
<rect x="143.6" y="240.99" width="7.94" height="4.27" fill="#eaf0f5"/>
<rect x="150.94" y="240.99" width="15.28" height="4.27" fill="#f8ede7"/>
<rect x="165.62" y="240.99" width="7.94" height="4.27" fill="#d5e6f1"/>
<rect x="172.96" y="240.99" width="15.28" height="4.27" fill="#f8ede7"/>
<rect x="187.64" y="240.99" width="15.28" height="4.27" fill="#eaf0f5"/>
<rect x="202.32" y="240.99" width="7.94" height="4.27" fill="#ee9070"/>
<rect x="209.66" y="240.99" width="7.94" height="4.27" fill="#f7b799"/>
<rect x="217" y="240.99" width="32.7" height="4.27" fill="#eaf0f5"/>
<rect x="31" y="244.65" width="3.1" height="4.27" fill="#eaf0f5"/>
<rect x="33.5" y="244.65" width="7.94" height="4.27" fill="#f8ede7"/>
<rect x="40.84" y="244.65" width="208.86" height="4.27" fill="#eaf0f5"/>
<rect x="31" y="248.32" width="3.1" height="4.27" fill="#eaf0f5"/>
<rect x="33.5" y="248.32" width="7.94" height="4.27" fill="#a7cde4"/>
<rect x="40.84" y="248.32" width="22.62" height="4.27" fill="#eaf0f5"/>
<rect x="62.86" y="248.32" width="7.94" height="4.27" fill="#f8ede7"/>
<rect x="70.2" y="248.32" width="29.96" height="4.27" fill="#eaf0f5"/>
<rect x="99.56" y="248.32" width="7.94" height="4.27" fill="#d5e6f1"/>
<rect x="106.9" y="248.32" width="7.94" height="4.27" fill="#eaf0f5"/>
<rect x="114.24" y="248.32" width="15.28" height="4.27" fill="#f8ede7"/>
<rect x="128.92" y="248.32" width="66.66" height="4.27" fill="#eaf0f5"/>
<rect x="194.98" y="248.32" width="22.62" height="4.27" fill="#f8ede7"/>
<rect x="217" y="248.32" width="32.7" height="4.27" fill="#eaf0f5"/>
<rect x="31" y="251.99" width="3.1" height="4.27" fill="#eaf0f5"/>
<rect x="33.5" y="251.99" width="7.94" height="4.27" fill="#a7cde4"/>
<rect x="40.84" y="251.99" width="22.62" height="4.27" fill="#eaf0f5"/>
<rect x="62.86" y="251.99" width="7.94" height="4.27" fill="#f8ede7"/>
<rect x="70.2" y="251.99" width="15.28" height="4.27" fill="#eaf0f5"/>
<rect x="84.88" y="251.99" width="15.28" height="4.27" fill="#f8ede7"/>
<rect x="99.56" y="251.99" width="7.94" height="4.27" fill="#d5e6f1"/>
<rect x="106.9" y="251.99" width="7.94" height="4.27" fill="#eaf0f5"/>
<rect x="114.24" y="251.99" width="15.28" height="4.27" fill="#fddcca"/>
<rect x="128.92" y="251.99" width="7.94" height="4.27" fill="#f8ede7"/>
<rect x="136.26" y="251.99" width="15.28" height="4.27" fill="#eaf0f5"/>
<rect x="150.94" y="251.99" width="15.28" height="4.27" fill="#f8ede7"/>
<rect x="165.62" y="251.99" width="7.94" height="4.27" fill="#eaf0f5"/>
<rect x="172.96" y="251.99" width="7.94" height="4.27" fill="#d5564a"/>
<rect x="180.3" y="251.99" width="7.94" height="4.27" fill="#eaf0f5"/>
<rect x="187.64" y="251.99" width="7.94" height="4.27" fill="#f8ede7"/>
<rect x="194.98" y="251.99" width="7.94" height="4.27" fill="#eaf0f5"/>
<rect x="202.32" y="251.99" width="7.94" height="4.27" fill="#f8ede7"/>
<rect x="209.66" y="251.99" width="40.04" height="4.27" fill="#eaf0f5"/>
<rect x="31" y="255.66" width="25.12" height="4.27" fill="#eaf0f5"/>
<rect x="55.52" y="255.66" width="15.28" height="4.27" fill="#f8ede7"/>
<rect x="70.2" y="255.66" width="7.94" height="4.27" fill="#fddcca"/>
<rect x="77.54" y="255.66" width="7.94" height="4.27" fill="#eaf0f5"/>
<rect x="84.88" y="255.66" width="15.28" height="4.27" fill="#f8ede7"/>
<rect x="99.56" y="255.66" width="59.32" height="4.27" fill="#eaf0f5"/>
<rect x="158.28" y="255.66" width="7.94" height="4.27" fill="#f8ede7"/>
<rect x="165.62" y="255.66" width="7.94" height="4.27" fill="#eaf0f5"/>
<rect x="172.96" y="255.66" width="7.94" height="4.27" fill="#f7b799"/>
<rect x="180.3" y="255.66" width="7.94" height="4.27" fill="#eaf0f5"/>
<rect x="187.64" y="255.66" width="7.94" height="4.27" fill="#f8ede7"/>
<rect x="194.98" y="255.66" width="54.72" height="4.27" fill="#eaf0f5"/>
<rect x="31" y="259.33" width="39.8" height="4.27" fill="#eaf0f5"/>
<rect x="70.2" y="259.33" width="7.94" height="4.27" fill="#f8ede7"/>
<rect x="77.54" y="259.33" width="44.64" height="4.27" fill="#eaf0f5"/>
<rect x="121.58" y="259.33" width="7.94" height="4.27" fill="#f8ede7"/>
<rect x="128.92" y="259.33" width="59.32" height="4.27" fill="#eaf0f5"/>
<rect x="187.64" y="259.33" width="7.94" height="4.27" fill="#f8ede7"/>
<rect x="194.98" y="259.33" width="54.72" height="4.27" fill="#eaf0f5"/>
<rect x="31" y="262.99" width="83.84" height="4.27" fill="#eaf0f5"/>
<rect x="114.24" y="262.99" width="7.94" height="4.27" fill="#f8ede7"/>
<rect x="121.58" y="262.99" width="66.66" height="4.27" fill="#eaf0f5"/>
<rect x="187.64" y="262.99" width="15.28" height="4.27" fill="#f8ede7"/>
<rect x="202.32" y="262.99" width="47.38" height="4.27" fill="#eaf0f5"/>
<rect x="31" y="266.66" width="76.5" height="4.27" fill="#eaf0f5"/>
<rect x="106.9" y="266.66" width="7.94" height="4.27" fill="#fddcca"/>
<rect x="114.24" y="266.66" width="7.94" height="4.27" fill="#f8ede7"/>
<rect x="121.58" y="266.66" width="7.94" height="4.27" fill="#eaf0f5"/>
<rect x="128.92" y="266.66" width="7.94" height="4.27" fill="#d5e6f1"/>
<rect x="136.26" y="266.66" width="22.62" height="4.27" fill="#eaf0f5"/>
<rect x="158.28" y="266.66" width="7.94" height="4.27" fill="#fddcca"/>
<rect x="165.62" y="266.66" width="7.94" height="4.27" fill="#eaf0f5"/>
<rect x="172.96" y="266.66" width="15.28" height="4.27" fill="#f8ede7"/>
<rect x="187.64" y="266.66" width="62.06" height="4.27" fill="#eaf0f5"/>
<rect x="31" y="270.33" width="76.5" height="4.27" fill="#eaf0f5"/>
<rect x="106.9" y="270.33" width="7.94" height="4.27" fill="#fddcca"/>
<rect x="114.24" y="270.33" width="44.64" height="4.27" fill="#eaf0f5"/>
<rect x="158.28" y="270.33" width="7.94" height="4.27" fill="#fddcca"/>
<rect x="165.62" y="270.33" width="22.62" height="4.27" fill="#eaf0f5"/>
<rect x="187.64" y="270.33" width="7.94" height="4.27" fill="#fddcca"/>
<rect x="194.98" y="270.33" width="54.72" height="4.27" fill="#eaf0f5"/>
<rect x="31" y="274" width="201.28" height="4.27" fill="#eaf0f5"/>
<rect x="231.68" y="274" width="7.94" height="4.27" fill="#f8ede7"/>
<rect x="239.02" y="274" width="10.68" height="4.27" fill="#eaf0f5"/>
<rect x="31" y="277.67" width="218.7" height="2.63" fill="#eaf0f5"/></g>
<g id="heat-b" filter="url(#bl)"><rect x="325.6" y="24.4" width="55.2" height="9.11" fill="#a7cde4"/>
<rect x="380.2" y="24.4" width="92.6" height="9.11" fill="#d5e6f1"/>
<rect x="472.2" y="24.4" width="55.8" height="9.11" fill="#eaf0f5"/>
<rect x="527.4" y="24.4" width="18.2" height="9.11" fill="#d5e6f1"/>
<rect x="325.6" y="32.91" width="55.2" height="9.77" fill="#a7cde4"/>
<rect x="380.2" y="32.91" width="74.2" height="9.77" fill="#d5e6f1"/>
<rect x="453.8" y="32.91" width="74.2" height="9.77" fill="#eaf0f5"/>
<rect x="527.4" y="32.91" width="18.2" height="9.77" fill="#d5e6f1"/>
<rect x="325.6" y="42.08" width="55.2" height="9.77" fill="#a7cde4"/>
<rect x="380.2" y="42.08" width="55.8" height="9.77" fill="#d5e6f1"/>
<rect x="435.4" y="42.08" width="92.6" height="9.77" fill="#eaf0f5"/>
<rect x="527.4" y="42.08" width="18.2" height="9.77" fill="#d5e6f1"/>
<rect x="325.6" y="51.25" width="36.8" height="9.77" fill="#6eadd2"/>
<rect x="361.8" y="51.25" width="19" height="9.77" fill="#a7cde4"/>
<rect x="380.2" y="51.25" width="37.4" height="9.77" fill="#d5e6f1"/>
<rect x="417" y="51.25" width="111" height="9.77" fill="#eaf0f5"/>
<rect x="527.4" y="51.25" width="18.2" height="9.77" fill="#d5e6f1"/>
<rect x="325.6" y="60.42" width="36.8" height="9.77" fill="#6eadd2"/>
<rect x="361.8" y="60.42" width="37.4" height="9.77" fill="#a7cde4"/>
<rect x="398.6" y="60.42" width="19" height="9.77" fill="#d5e6f1"/>
<rect x="417" y="60.42" width="92.6" height="9.77" fill="#eaf0f5"/>
<rect x="509" y="60.42" width="19" height="9.77" fill="#d5e6f1"/>
<rect x="527.4" y="60.42" width="18.2" height="9.77" fill="#a7cde4"/>
<rect x="325.6" y="69.59" width="55.2" height="9.77" fill="#6eadd2"/>
<rect x="380.2" y="69.59" width="37.4" height="9.77" fill="#a7cde4"/>
<rect x="417" y="69.59" width="19" height="9.77" fill="#d5e6f1"/>
<rect x="435.4" y="69.59" width="74.2" height="9.77" fill="#eaf0f5"/>
<rect x="509" y="69.59" width="19" height="9.77" fill="#d5e6f1"/>
<rect x="527.4" y="69.59" width="18.2" height="9.77" fill="#6eadd2"/>
<rect x="325.6" y="78.76" width="55.2" height="9.77" fill="#6eadd2"/>
<rect x="380.2" y="78.76" width="37.4" height="9.77" fill="#a7cde4"/>
<rect x="417" y="78.76" width="19" height="9.77" fill="#d5e6f1"/>
<rect x="435.4" y="78.76" width="92.6" height="9.77" fill="#eaf0f5"/>
<rect x="527.4" y="78.76" width="18.2" height="9.77" fill="#a7cde4"/>
<rect x="325.6" y="87.93" width="18.4" height="9.77" fill="#4389c1"/>
<rect x="343.4" y="87.93" width="19" height="9.77" fill="#6eadd2"/>
<rect x="361.8" y="87.93" width="37.4" height="9.77" fill="#a7cde4"/>
<rect x="398.6" y="87.93" width="37.4" height="9.77" fill="#d5e6f1"/>
<rect x="435.4" y="87.93" width="19" height="9.77" fill="#eaf0f5"/>
<rect x="453.8" y="87.93" width="74.2" height="9.77" fill="#f8ede7"/>
<rect x="527.4" y="87.93" width="18.2" height="9.77" fill="#eaf0f5"/>
<rect x="325.6" y="97.1" width="18.4" height="9.77" fill="#2166ac"/>
<rect x="343.4" y="97.1" width="19" height="9.77" fill="#6eadd2"/>
<rect x="361.8" y="97.1" width="19" height="9.77" fill="#a7cde4"/>
<rect x="380.2" y="97.1" width="19" height="9.77" fill="#d5e6f1"/>
<rect x="398.6" y="97.1" width="37.4" height="9.77" fill="#eaf0f5"/>
<rect x="435.4" y="97.1" width="37.4" height="9.77" fill="#f8ede7"/>
<rect x="472.2" y="97.1" width="19" height="9.77" fill="#fddcca"/>
<rect x="490.6" y="97.1" width="55" height="9.77" fill="#f7b799"/>
<rect x="325.6" y="106.27" width="18.4" height="9.77" fill="#4389c1"/>
<rect x="343.4" y="106.27" width="19" height="9.77" fill="#6eadd2"/>
<rect x="361.8" y="106.27" width="19" height="9.77" fill="#a7cde4"/>
<rect x="380.2" y="106.27" width="19" height="9.77" fill="#d5e6f1"/>
<rect x="398.6" y="106.27" width="19" height="9.77" fill="#eaf0f5"/>
<rect x="417" y="106.27" width="19" height="9.77" fill="#f8ede7"/>
<rect x="435.4" y="106.27" width="19" height="9.77" fill="#fddcca"/>
<rect x="453.8" y="106.27" width="37.4" height="9.77" fill="#f7b799"/>
<rect x="490.6" y="106.27" width="19" height="9.77" fill="#fddcca"/>
<rect x="509" y="106.27" width="36.6" height="9.77" fill="#f8ede7"/>
<rect x="325.6" y="115.44" width="18.4" height="9.77" fill="#6eadd2"/>
<rect x="343.4" y="115.44" width="19" height="9.77" fill="#a7cde4"/>
<rect x="361.8" y="115.44" width="19" height="9.77" fill="#d5e6f1"/>
<rect x="380.2" y="115.44" width="19" height="9.77" fill="#eaf0f5"/>
<rect x="398.6" y="115.44" width="19" height="9.77" fill="#f8ede7"/>
<rect x="417" y="115.44" width="19" height="9.77" fill="#fddcca"/>
<rect x="435.4" y="115.44" width="19" height="9.77" fill="#f7b799"/>
<rect x="453.8" y="115.44" width="19" height="9.77" fill="#fddcca"/>
<rect x="472.2" y="115.44" width="37.4" height="9.77" fill="#f8ede7"/>
<rect x="509" y="115.44" width="36.6" height="9.77" fill="#eaf0f5"/>
<rect x="325.6" y="124.61" width="18.4" height="9.77" fill="#a7cde4"/>
<rect x="343.4" y="124.61" width="19" height="9.77" fill="#d5e6f1"/>
<rect x="361.8" y="124.61" width="19" height="9.77" fill="#eaf0f5"/>
<rect x="380.2" y="124.61" width="19" height="9.77" fill="#f8ede7"/>
<rect x="398.6" y="124.61" width="55.8" height="9.77" fill="#fddcca"/>
<rect x="453.8" y="124.61" width="19" height="9.77" fill="#f8ede7"/>
<rect x="472.2" y="124.61" width="37.4" height="9.77" fill="#eaf0f5"/>
<rect x="509" y="124.61" width="36.6" height="9.77" fill="#d5e6f1"/>
<rect x="325.6" y="133.78" width="36.8" height="9.77" fill="#eaf0f5"/>
<rect x="361.8" y="133.78" width="19" height="9.77" fill="#f8ede7"/>
<rect x="380.2" y="133.78" width="37.4" height="9.77" fill="#fddcca"/>
<rect x="417" y="133.78" width="19" height="9.77" fill="#f8ede7"/>
<rect x="435.4" y="133.78" width="37.4" height="9.77" fill="#eaf0f5"/>
<rect x="472.2" y="133.78" width="37.4" height="9.77" fill="#d5e6f1"/>
<rect x="509" y="133.78" width="36.6" height="9.77" fill="#a7cde4"/>
<rect x="325.6" y="142.95" width="18.4" height="9.77" fill="#eaf0f5"/>
<rect x="343.4" y="142.95" width="19" height="9.77" fill="#f8ede7"/>
<rect x="361.8" y="142.95" width="19" height="9.77" fill="#fddcca"/>
<rect x="380.2" y="142.95" width="37.4" height="9.77" fill="#f8ede7"/>
<rect x="417" y="142.95" width="19" height="9.77" fill="#eaf0f5"/>
<rect x="435.4" y="142.95" width="37.4" height="9.77" fill="#d5e6f1"/>
<rect x="472.2" y="142.95" width="37.4" height="9.77" fill="#a7cde4"/>
<rect x="509" y="142.95" width="36.6" height="9.77" fill="#6eadd2"/>
<rect x="325.6" y="152.12" width="36.8" height="9.77" fill="#f8ede7"/>
<rect x="361.8" y="152.12" width="37.4" height="9.77" fill="#eaf0f5"/>
<rect x="398.6" y="152.12" width="55.8" height="9.77" fill="#d5e6f1"/>
<rect x="453.8" y="152.12" width="37.4" height="9.77" fill="#a7cde4"/>
<rect x="490.6" y="152.12" width="37.4" height="9.77" fill="#6eadd2"/>
<rect x="527.4" y="152.12" width="18.2" height="9.77" fill="#4389c1"/>
<rect x="325.6" y="161.29" width="18.4" height="9.77" fill="#f8ede7"/>
<rect x="343.4" y="161.29" width="19" height="9.77" fill="#eaf0f5"/>
<rect x="361.8" y="161.29" width="19" height="9.77" fill="#d5e6f1"/>
<rect x="380.2" y="161.29" width="74.2" height="9.77" fill="#a7cde4"/>
<rect x="453.8" y="161.29" width="55.8" height="9.77" fill="#6eadd2"/>
<rect x="509" y="161.29" width="36.6" height="9.77" fill="#4389c1"/>
<rect x="325.6" y="170.46" width="55.2" height="9.77" fill="#a7cde4"/>
<rect x="380.2" y="170.46" width="37.4" height="9.77" fill="#6eadd2"/>
<rect x="417" y="170.46" width="19" height="9.77" fill="#a7cde4"/>
<rect x="435.4" y="170.46" width="74.2" height="9.77" fill="#6eadd2"/>
<rect x="509" y="170.46" width="36.6" height="9.77" fill="#4389c1"/>
<rect x="325.6" y="179.63" width="18.4" height="9.77" fill="#2166ac"/>
<rect x="343.4" y="179.63" width="19" height="9.77" fill="#4389c1"/>
<rect x="361.8" y="179.63" width="129.4" height="9.77" fill="#6eadd2"/>
<rect x="490.6" y="179.63" width="55" height="9.77" fill="#4389c1"/>
<rect x="325.6" y="188.8" width="18.4" height="9.77" fill="#2166ac"/>
<rect x="343.4" y="188.8" width="19" height="9.77" fill="#4389c1"/>
<rect x="361.8" y="188.8" width="19" height="9.77" fill="#6eadd2"/>
<rect x="380.2" y="188.8" width="19" height="9.77" fill="#a7cde4"/>
<rect x="398.6" y="188.8" width="19" height="9.77" fill="#4389c1"/>
<rect x="417" y="188.8" width="111" height="9.77" fill="#6eadd2"/>
<rect x="527.4" y="188.8" width="18.2" height="9.77" fill="#4389c1"/>
<rect x="325.6" y="197.97" width="36.8" height="9.77" fill="#6eadd2"/>
<rect x="361.8" y="197.97" width="37.4" height="9.77" fill="#a7cde4"/>
<rect x="398.6" y="197.97" width="147" height="9.77" fill="#6eadd2"/>
<rect x="325.6" y="207.14" width="18.4" height="9.77" fill="#4389c1"/>
<rect x="343.4" y="207.14" width="19" height="9.77" fill="#6eadd2"/>
<rect x="361.8" y="207.14" width="183.8" height="9.77" fill="#a7cde4"/>
<rect x="325.6" y="216.31" width="18.4" height="9.77" fill="#2166ac"/>
<rect x="343.4" y="216.31" width="19" height="9.77" fill="#6eadd2"/>
<rect x="361.8" y="216.31" width="19" height="9.77" fill="#a7cde4"/>
<rect x="380.2" y="216.31" width="74.2" height="9.77" fill="#d5e6f1"/>
<rect x="453.8" y="216.31" width="55.8" height="9.77" fill="#a7cde4"/>
<rect x="509" y="216.31" width="36.6" height="9.77" fill="#6eadd2"/>
<rect x="325.6" y="225.48" width="18.4" height="9.77" fill="#2166ac"/>
<rect x="343.4" y="225.48" width="19" height="9.77" fill="#6eadd2"/>
<rect x="361.8" y="225.48" width="19" height="9.77" fill="#a7cde4"/>
<rect x="380.2" y="225.48" width="19" height="9.77" fill="#d5e6f1"/>
<rect x="398.6" y="225.48" width="37.4" height="9.77" fill="#eaf0f5"/>
<rect x="435.4" y="225.48" width="37.4" height="9.77" fill="#d5e6f1"/>
<rect x="472.2" y="225.48" width="37.4" height="9.77" fill="#a7cde4"/>
<rect x="509" y="225.48" width="36.6" height="9.77" fill="#6eadd2"/>
<rect x="325.6" y="234.65" width="18.4" height="9.77" fill="#4389c1"/>
<rect x="343.4" y="234.65" width="19" height="9.77" fill="#6eadd2"/>
<rect x="361.8" y="234.65" width="19" height="9.77" fill="#a7cde4"/>
<rect x="380.2" y="234.65" width="92.6" height="9.77" fill="#d5e6f1"/>
<rect x="472.2" y="234.65" width="37.4" height="9.77" fill="#a7cde4"/>
<rect x="509" y="234.65" width="36.6" height="9.77" fill="#6eadd2"/>
<rect x="325.6" y="243.82" width="18.4" height="9.77" fill="#6eadd2"/>
<rect x="343.4" y="243.82" width="55.8" height="9.77" fill="#a7cde4"/>
<rect x="398.6" y="243.82" width="55.8" height="9.77" fill="#d5e6f1"/>
<rect x="453.8" y="243.82" width="74.2" height="9.77" fill="#a7cde4"/>
<rect x="527.4" y="243.82" width="18.2" height="9.77" fill="#6eadd2"/>
<rect x="325.6" y="252.99" width="220" height="9.77" fill="#a7cde4"/>
<rect x="325.6" y="262.16" width="220" height="9.77" fill="#a7cde4"/>
<rect x="325.6" y="271.33" width="220" height="8.97" fill="#a7cde4"/></g>
<clipPath id="ca"><rect x="30.75" y="23.7" width="220.95" height="256.4"/></clipPath>
<clipPath id="cb"><rect x="325.15" y="23.7" width="220.95" height="256.4"/></clipPath>
<g clip-path="url(#ca)"><circle cx="31.05" cy="243.8" r="4.4" fill="#fff" stroke="#444" stroke-width="0.7"/>
<circle cx="251.3" cy="243.8" r="4.4" fill="#fff" stroke="#444" stroke-width="0.7"/>
<circle cx="31.05" cy="207.1" r="4.4" fill="#fff" stroke="#444" stroke-width="0.7"/>
<circle cx="251.3" cy="207.1" r="4.4" fill="#fff" stroke="#444" stroke-width="0.7"/>
<circle cx="31.05" cy="170.4" r="4.4" fill="#fff" stroke="#444" stroke-width="0.7"/>
<circle cx="251.3" cy="170.4" r="4.4" fill="#fff" stroke="#444" stroke-width="0.7"/>
<circle cx="31.05" cy="133.7" r="4.4" fill="#fff" stroke="#444" stroke-width="0.7"/>
<circle cx="251.3" cy="133.7" r="4.4" fill="#fff" stroke="#444" stroke-width="0.7"/>
<circle cx="31.05" cy="97" r="4.4" fill="#fff" stroke="#444" stroke-width="0.7"/>
<circle cx="251.3" cy="97" r="4.4" fill="#fff" stroke="#444" stroke-width="0.7"/>
<circle cx="31.05" cy="60.3" r="4.4" fill="#fff" stroke="#444" stroke-width="0.7"/>
<circle cx="251.3" cy="60.3" r="4.4" fill="#fff" stroke="#444" stroke-width="0.7"/></g>
<g clip-path="url(#cb)"><circle cx="325.45" cy="243.8" r="4.4" fill="#fff" stroke="#444" stroke-width="0.7"/>
<circle cx="545.7" cy="243.8" r="4.4" fill="#fff" stroke="#444" stroke-width="0.7"/>
<circle cx="325.45" cy="207.1" r="4.4" fill="#fff" stroke="#444" stroke-width="0.7"/>
<circle cx="545.7" cy="207.1" r="4.4" fill="#fff" stroke="#444" stroke-width="0.7"/>
<circle cx="325.45" cy="170.4" r="4.4" fill="#fff" stroke="#444" stroke-width="0.7"/>
<circle cx="545.7" cy="170.4" r="4.4" fill="#fff" stroke="#444" stroke-width="0.7"/>
<circle cx="325.45" cy="133.7" r="4.4" fill="#fff" stroke="#444" stroke-width="0.7"/>
<circle cx="545.7" cy="133.7" r="4.4" fill="#fff" stroke="#444" stroke-width="0.7"/>
<circle cx="325.45" cy="97" r="4.4" fill="#fff" stroke="#444" stroke-width="0.7"/>
<circle cx="545.7" cy="97" r="4.4" fill="#fff" stroke="#444" stroke-width="0.7"/>
<circle cx="325.45" cy="60.3" r="4.4" fill="#fff" stroke="#444" stroke-width="0.7"/>
<circle cx="545.7" cy="60.3" r="4.4" fill="#fff" stroke="#444" stroke-width="0.7"/></g>
<rect x="30.75" y="23.75" width="220.95" height="256.55" fill="none" stroke="#0a0a0a" stroke-width="1.3" rx="0.8"/>
<rect x="325.15" y="23.75" width="220.95" height="256.55" fill="none" stroke="#0a0a0a" stroke-width="1.3" rx="0.8"/>
<text x="139.8" y="10.9" class="ttl" text-anchor="middle">(a) True K</text>
<text x="27.45" y="283.7" class="tk" text-anchor="end">0</text>
<text x="27.45" y="210.3" class="tk" text-anchor="end">2</text>
<text x="27.45" y="136.9" class="tk" text-anchor="end">4</text>
<text x="27.45" y="63.5" class="tk" text-anchor="end">6</text>
<text x="67.5" y="290.9" class="tk" text-anchor="middle">6</text>
<text x="141" y="290.9" class="tk" text-anchor="middle">8</text>
<text x="214.5" y="290.9" class="tk" text-anchor="middle">10</text>
<text x="141.15" y="302.3" class="ax" text-anchor="middle">x (m)</text>
<text transform="translate(13.4,152) rotate(-90)" class="ax" style="font-size:11.3px" text-anchor="middle">z (m)</text>
<text x="434" y="10.9" class="ttl" text-anchor="middle">(b) Estimated K</text>
<text x="321.85" y="283.7" class="tk" text-anchor="end">0</text>
<text x="321.85" y="210.3" class="tk" text-anchor="end">2</text>
<text x="321.85" y="136.9" class="tk" text-anchor="end">4</text>
<text x="321.85" y="63.5" class="tk" text-anchor="end">6</text>
<text x="361.9" y="290.9" class="tk" text-anchor="middle">6</text>
<text x="435.4" y="290.9" class="tk" text-anchor="middle">8</text>
<text x="508.9" y="290.9" class="tk" text-anchor="middle">10</text>
<text x="435.55" y="302.3" class="ax" text-anchor="middle">x (m)</text>
<text transform="translate(307.8,152) rotate(-90)" class="ax" style="font-size:11.3px" text-anchor="middle">z (m)</text>
<rect x="33.6" y="324" width="24.1" height="15.6" fill="#2166ac"/>
<rect x="57.2" y="324" width="46.42" height="15.6" fill="#4389c1"/>
<rect x="103.12" y="324" width="46.42" height="15.6" fill="#6eadd2"/>
<rect x="149.04" y="324" width="46.42" height="15.6" fill="#a7cde4"/>
<rect x="194.96" y="324" width="46.42" height="15.6" fill="#d5e6f1"/>
<rect x="240.88" y="324" width="46.42" height="15.6" fill="#eaf0f5"/>
<rect x="286.8" y="324" width="46.42" height="15.6" fill="#f8ede7"/>
<rect x="332.72" y="324" width="46.42" height="15.6" fill="#fddcca"/>
<rect x="378.64" y="324" width="46.42" height="15.6" fill="#f7b799"/>
<rect x="424.56" y="324" width="46.42" height="15.6" fill="#ee9070"/>
<rect x="470.48" y="324" width="46.42" height="15.6" fill="#d5564a"/>
<rect x="516.4" y="324" width="23.4" height="15.6" fill="#b2182b"/>
<line x1="57.2" y1="324" x2="57.2" y2="339.6" stroke="#6b6b6b" stroke-opacity="0.55" stroke-width="0.6"/>
<line x1="103.12" y1="324" x2="103.12" y2="339.6" stroke="#6b6b6b" stroke-opacity="0.55" stroke-width="0.6"/>
<line x1="149.04" y1="324" x2="149.04" y2="339.6" stroke="#6b6b6b" stroke-opacity="0.55" stroke-width="0.6"/>
<line x1="194.96" y1="324" x2="194.96" y2="339.6" stroke="#6b6b6b" stroke-opacity="0.55" stroke-width="0.6"/>
<line x1="240.88" y1="324" x2="240.88" y2="339.6" stroke="#6b6b6b" stroke-opacity="0.55" stroke-width="0.6"/>
<line x1="286.8" y1="324" x2="286.8" y2="339.6" stroke="#6b6b6b" stroke-opacity="0.55" stroke-width="0.6"/>
<line x1="332.72" y1="324" x2="332.72" y2="339.6" stroke="#6b6b6b" stroke-opacity="0.55" stroke-width="0.6"/>
<line x1="378.64" y1="324" x2="378.64" y2="339.6" stroke="#6b6b6b" stroke-opacity="0.55" stroke-width="0.6"/>
<line x1="424.56" y1="324" x2="424.56" y2="339.6" stroke="#6b6b6b" stroke-opacity="0.55" stroke-width="0.6"/>
<line x1="470.48" y1="324" x2="470.48" y2="339.6" stroke="#6b6b6b" stroke-opacity="0.55" stroke-width="0.6"/>
<line x1="516.4" y1="324" x2="516.4" y2="339.6" stroke="#6b6b6b" stroke-opacity="0.55" stroke-width="0.6"/>
<rect x="33.6" y="324" width="506.2" height="15.6" fill="none" stroke="#777" stroke-opacity="0.6" stroke-width="0.6"/>
<text x="38.1" y="351.6" class="cb" textLength="28.2" lengthAdjust="spacingAndGlyphs">2.0x10</text>
<text x="66.9" y="347.0" class="sup" textLength="8.8" lengthAdjust="spacingAndGlyphs">-05</text>
<text x="84.02" y="351.6" class="cb" textLength="28.2" lengthAdjust="spacingAndGlyphs">3.5x10</text>
<text x="112.82" y="347.0" class="sup" textLength="8.8" lengthAdjust="spacingAndGlyphs">-05</text>
<text x="129.94" y="351.6" class="cb" textLength="28.2" lengthAdjust="spacingAndGlyphs">6.0x10</text>
<text x="158.74" y="347.0" class="sup" textLength="8.8" lengthAdjust="spacingAndGlyphs">-05</text>
<text x="175.86" y="351.6" class="cb" textLength="28.2" lengthAdjust="spacingAndGlyphs">1.0x10</text>
<text x="204.66" y="347.0" class="sup" textLength="8.8" lengthAdjust="spacingAndGlyphs">-04</text>
<text x="221.78" y="351.6" class="cb" textLength="28.2" lengthAdjust="spacingAndGlyphs">1.8x10</text>
<text x="250.58" y="347.0" class="sup" textLength="8.8" lengthAdjust="spacingAndGlyphs">-04</text>
<text x="267.7" y="351.6" class="cb" textLength="28.2" lengthAdjust="spacingAndGlyphs">3.2x10</text>
<text x="296.5" y="347.0" class="sup" textLength="8.8" lengthAdjust="spacingAndGlyphs">-04</text>
<text x="313.62" y="351.6" class="cb" textLength="28.2" lengthAdjust="spacingAndGlyphs">5.5x10</text>
<text x="342.42" y="347.0" class="sup" textLength="8.8" lengthAdjust="spacingAndGlyphs">-04</text>
<text x="359.54" y="351.6" class="cb" textLength="28.2" lengthAdjust="spacingAndGlyphs">9.5x10</text>
<text x="388.34" y="347.0" class="sup" textLength="8.8" lengthAdjust="spacingAndGlyphs">-04</text>
<text x="405.46" y="351.6" class="cb" textLength="28.2" lengthAdjust="spacingAndGlyphs">1.7x10</text>
<text x="434.26" y="347.0" class="sup" textLength="8.8" lengthAdjust="spacingAndGlyphs">-03</text>
<text x="451.38" y="351.6" class="cb" textLength="28.2" lengthAdjust="spacingAndGlyphs">2.9x10</text>
<text x="480.18" y="347.0" class="sup" textLength="8.8" lengthAdjust="spacingAndGlyphs">-03</text>
<text x="497.3" y="351.6" class="cb" textLength="28.2" lengthAdjust="spacingAndGlyphs">5.0x10</text>
<text x="526.1" y="347.0" class="sup" textLength="8.8" lengthAdjust="spacingAndGlyphs">-03</text>
<text x="287.2" y="369" class="ttl" text-anchor="middle">K (m/s)</text>
</svg>
</body></html>
